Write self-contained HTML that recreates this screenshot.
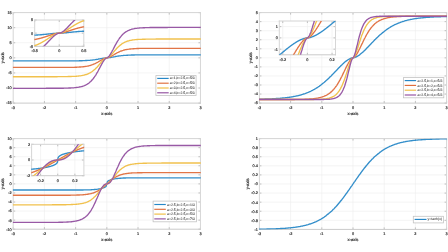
<!DOCTYPE html>
<html><head><meta charset="utf-8"><style>
html,body{margin:0;padding:0;background:#fff;width:448px;height:252px;overflow:hidden}
svg{display:block}
</style></head><body>
<svg width="448" height="252" viewBox="0 0 448 252" font-family='"Liberation Sans", Arial, sans-serif' fill="#3a3a3a"><style>text{text-rendering:geometricPrecision;stroke:#3a3a3a;stroke-width:0.2}.lg{stroke-width:0.06;fill:#404040;stroke:#404040}</style><rect x="13.20" y="12.60" width="187.25" height="90.50" fill="#fff"/>
<path d="M44.41 12.60V103.10M75.62 12.60V103.10M106.83 12.60V103.10M138.03 12.60V103.10M169.24 12.60V103.10M13.20 88.02H200.45M13.20 72.93H200.45M13.20 57.85H200.45M13.20 42.77H200.45M13.20 27.68H200.45" stroke="#ececec" stroke-width="0.6" fill="none"/>
<path d="M13.20 103.10v-2.00M13.20 12.60v2.00M44.41 103.10v-2.00M44.41 12.60v2.00M75.62 103.10v-2.00M75.62 12.60v2.00M106.83 103.10v-2.00M106.83 12.60v2.00M138.03 103.10v-2.00M138.03 12.60v2.00M169.24 103.10v-2.00M169.24 12.60v2.00M200.45 103.10v-2.00M200.45 12.60v2.00M13.20 103.10h2.00M200.45 103.10h-2.00M13.20 88.02h2.00M200.45 88.02h-2.00M13.20 72.93h2.00M200.45 72.93h-2.00M13.20 57.85h2.00M200.45 57.85h-2.00M13.20 42.77h2.00M200.45 42.77h-2.00M13.20 27.68h2.00M200.45 27.68h-2.00M13.20 12.60h2.00M200.45 12.60h-2.00" stroke="#999999" stroke-width="0.6" fill="none"/>
<path d="M13.20 12.10V103.60M200.45 12.10V103.60" stroke="#d6d6d6" stroke-width="1.0"/>
<path d="M12.70 12.60H200.95" stroke="#d4d4d4" stroke-width="1.0"/>
<path d="M12.70 103.10H200.95" stroke="#cacaca" stroke-width="1.0"/>
<clipPath id="c1x"><rect x="12.85" y="12.60" width="187.95" height="90.50"/></clipPath>
<path clip-path="url(#c1x)" d="M13.2 60.9L13.8 60.9L14.4 60.9L15.1 60.9L15.7 60.9L16.3 60.9L16.9 60.9L17.6 60.9L18.2 60.9L18.8 60.9L19.4 60.9L20.1 60.9L20.7 60.9L21.3 60.9L21.9 60.9L22.6 60.9L23.2 60.9L23.8 60.9L24.4 60.9L25.1 60.9L25.7 60.9L26.3 60.9L26.9 60.9L27.6 60.9L28.2 60.9L28.8 60.9L29.4 60.9L30.1 60.9L30.7 60.9L31.3 60.9L31.9 60.9L32.5 60.9L33.2 60.9L33.8 60.9L34.4 60.9L35.0 60.9L35.7 60.9L36.3 60.9L36.9 60.9L37.5 60.9L38.2 60.9L38.8 60.9L39.4 60.9L40.0 60.9L40.7 60.9L41.3 60.9L41.9 60.9L42.5 60.9L43.2 60.9L43.8 60.9L44.4 60.9L45.0 60.9L45.7 60.9L46.3 60.9L46.9 60.9L47.5 60.9L48.2 60.9L48.8 60.9L49.4 60.9L50.0 60.9L50.6 60.9L51.3 60.9L51.9 60.9L52.5 60.9L53.1 60.9L53.8 60.9L54.4 60.9L55.0 60.9L55.6 60.9L56.3 60.9L56.9 60.9L57.5 60.9L58.1 60.9L58.8 60.9L59.4 60.9L60.0 60.9L60.6 60.9L61.3 60.9L61.9 60.9L62.5 60.9L63.1 60.9L63.8 60.9L64.4 60.9L65.0 60.9L65.6 60.9L66.3 60.9L66.9 60.9L67.5 60.8L68.1 60.8L68.8 60.8L69.4 60.8L70.0 60.8L70.6 60.8L71.2 60.8L71.9 60.8L72.5 60.8L73.1 60.8L73.7 60.8L74.4 60.8L75.0 60.8L75.6 60.8L76.2 60.8L76.9 60.8L77.5 60.8L78.1 60.8L78.7 60.8L79.4 60.7L80.0 60.7L80.6 60.7L81.2 60.7L81.9 60.7L82.5 60.7L83.1 60.6L83.7 60.6L84.4 60.6L85.0 60.6L85.6 60.5L86.2 60.5L86.9 60.5L87.5 60.4L88.1 60.4L88.7 60.4L89.3 60.3L90.0 60.3L90.6 60.2L91.2 60.1L91.8 60.1L92.5 60.0L93.1 59.9L93.7 59.9L94.3 59.8L95.0 59.7L95.6 59.6L96.2 59.5L96.8 59.4L97.5 59.3L98.1 59.2L98.7 59.0L99.3 58.9L100.0 58.8L100.6 58.7L101.2 58.6L101.8 58.5L102.5 58.3L103.1 58.2L103.7 58.1L104.3 58.1L105.0 58.0L105.6 57.9L106.2 57.9L106.8 57.8L107.4 57.8L108.1 57.8L108.7 57.7L109.3 57.6L109.9 57.6L110.6 57.5L111.2 57.4L111.8 57.2L112.4 57.1L113.1 57.0L113.7 56.9L114.3 56.8L114.9 56.7L115.6 56.5L116.2 56.4L116.8 56.3L117.4 56.2L118.1 56.1L118.7 56.0L119.3 55.9L119.9 55.8L120.6 55.8L121.2 55.7L121.8 55.6L122.4 55.6L123.1 55.5L123.7 55.4L124.3 55.4L124.9 55.3L125.5 55.3L126.2 55.3L126.8 55.2L127.4 55.2L128.0 55.2L128.7 55.1L129.3 55.1L129.9 55.1L130.5 55.1L131.2 55.0L131.8 55.0L132.4 55.0L133.0 55.0L133.7 55.0L134.3 55.0L134.9 54.9L135.5 54.9L136.2 54.9L136.8 54.9L137.4 54.9L138.0 54.9L138.7 54.9L139.3 54.9L139.9 54.9L140.5 54.9L141.2 54.9L141.8 54.9L142.4 54.9L143.0 54.9L143.7 54.9L144.3 54.9L144.9 54.9L145.5 54.9L146.1 54.9L146.8 54.8L147.4 54.8L148.0 54.8L148.6 54.8L149.3 54.8L149.9 54.8L150.5 54.8L151.1 54.8L151.8 54.8L152.4 54.8L153.0 54.8L153.6 54.8L154.3 54.8L154.9 54.8L155.5 54.8L156.1 54.8L156.8 54.8L157.4 54.8L158.0 54.8L158.6 54.8L159.3 54.8L159.9 54.8L160.5 54.8L161.1 54.8L161.8 54.8L162.4 54.8L163.0 54.8L163.6 54.8L164.2 54.8L164.9 54.8L165.5 54.8L166.1 54.8L166.7 54.8L167.4 54.8L168.0 54.8L168.6 54.8L169.2 54.8L169.9 54.8L170.5 54.8L171.1 54.8L171.7 54.8L172.4 54.8L173.0 54.8L173.6 54.8L174.2 54.8L174.9 54.8L175.5 54.8L176.1 54.8L176.7 54.8L177.4 54.8L178.0 54.8L178.6 54.8L179.2 54.8L179.9 54.8L180.5 54.8L181.1 54.8L181.7 54.8L182.3 54.8L183.0 54.8L183.6 54.8L184.2 54.8L184.8 54.8L185.5 54.8L186.1 54.8L186.7 54.8L187.3 54.8L188.0 54.8L188.6 54.8L189.2 54.8L189.8 54.8L190.5 54.8L191.1 54.8L191.7 54.8L192.3 54.8L193.0 54.8L193.6 54.8L194.2 54.8L194.8 54.8L195.5 54.8L196.1 54.8L196.7 54.8L197.3 54.8L198.0 54.8L198.6 54.8L199.2 54.8L199.8 54.8L200.4 54.8" stroke="#338eca" stroke-width="1.35" stroke-opacity="1.0" fill="none" stroke-linejoin="round" stroke-linecap="square"/>
<path clip-path="url(#c1x)" d="M13.2 67.4L13.8 67.4L14.4 67.4L15.1 67.4L15.7 67.4L16.3 67.4L16.9 67.4L17.6 67.4L18.2 67.4L18.8 67.4L19.4 67.4L20.1 67.4L20.7 67.4L21.3 67.4L21.9 67.4L22.6 67.4L23.2 67.4L23.8 67.4L24.4 67.4L25.1 67.4L25.7 67.4L26.3 67.4L26.9 67.4L27.6 67.4L28.2 67.4L28.8 67.4L29.4 67.4L30.1 67.4L30.7 67.4L31.3 67.4L31.9 67.4L32.5 67.4L33.2 67.4L33.8 67.4L34.4 67.4L35.0 67.4L35.7 67.4L36.3 67.4L36.9 67.4L37.5 67.4L38.2 67.4L38.8 67.4L39.4 67.4L40.0 67.4L40.7 67.4L41.3 67.4L41.9 67.4L42.5 67.4L43.2 67.4L43.8 67.4L44.4 67.4L45.0 67.4L45.7 67.4L46.3 67.4L46.9 67.4L47.5 67.4L48.2 67.4L48.8 67.4L49.4 67.4L50.0 67.4L50.6 67.4L51.3 67.4L51.9 67.4L52.5 67.4L53.1 67.4L53.8 67.4L54.4 67.4L55.0 67.4L55.6 67.4L56.3 67.4L56.9 67.4L57.5 67.4L58.1 67.4L58.8 67.4L59.4 67.4L60.0 67.4L60.6 67.4L61.3 67.4L61.9 67.4L62.5 67.4L63.1 67.4L63.8 67.4L64.4 67.4L65.0 67.4L65.6 67.4L66.3 67.4L66.9 67.4L67.5 67.4L68.1 67.4L68.8 67.4L69.4 67.3L70.0 67.3L70.6 67.3L71.2 67.3L71.9 67.3L72.5 67.3L73.1 67.3L73.7 67.3L74.4 67.3L75.0 67.2L75.6 67.2L76.2 67.2L76.9 67.2L77.5 67.1L78.1 67.1L78.7 67.1L79.4 67.0L80.0 67.0L80.6 67.0L81.2 66.9L81.9 66.9L82.5 66.8L83.1 66.7L83.7 66.7L84.4 66.6L85.0 66.5L85.6 66.4L86.2 66.3L86.9 66.2L87.5 66.1L88.1 66.0L88.7 65.8L89.3 65.7L90.0 65.5L90.6 65.3L91.2 65.1L91.8 64.9L92.5 64.7L93.1 64.5L93.7 64.2L94.3 63.9L95.0 63.6L95.6 63.3L96.2 63.0L96.8 62.7L97.5 62.3L98.1 62.0L98.7 61.6L99.3 61.2L100.0 60.9L100.6 60.5L101.2 60.1L101.8 59.8L102.5 59.4L103.1 59.1L103.7 58.8L104.3 58.5L105.0 58.3L105.6 58.1L106.2 57.9L106.8 57.8L107.4 57.8L108.1 57.6L108.7 57.4L109.3 57.2L109.9 56.9L110.6 56.6L111.2 56.3L111.8 55.9L112.4 55.6L113.1 55.2L113.7 54.8L114.3 54.5L114.9 54.1L115.6 53.7L116.2 53.4L116.8 53.0L117.4 52.7L118.1 52.4L118.7 52.1L119.3 51.8L119.9 51.5L120.6 51.2L121.2 51.0L121.8 50.8L122.4 50.6L123.1 50.4L123.7 50.2L124.3 50.0L124.9 49.9L125.5 49.7L126.2 49.6L126.8 49.5L127.4 49.4L128.0 49.3L128.7 49.2L129.3 49.1L129.9 49.0L130.5 49.0L131.2 48.9L131.8 48.8L132.4 48.8L133.0 48.7L133.7 48.7L134.3 48.7L134.9 48.6L135.5 48.6L136.2 48.6L136.8 48.5L137.4 48.5L138.0 48.5L138.7 48.5L139.3 48.4L139.9 48.4L140.5 48.4L141.2 48.4L141.8 48.4L142.4 48.4L143.0 48.4L143.7 48.4L144.3 48.4L144.9 48.3L145.5 48.3L146.1 48.3L146.8 48.3L147.4 48.3L148.0 48.3L148.6 48.3L149.3 48.3L149.9 48.3L150.5 48.3L151.1 48.3L151.8 48.3L152.4 48.3L153.0 48.3L153.6 48.3L154.3 48.3L154.9 48.3L155.5 48.3L156.1 48.3L156.8 48.3L157.4 48.3L158.0 48.3L158.6 48.3L159.3 48.3L159.9 48.3L160.5 48.3L161.1 48.3L161.8 48.3L162.4 48.3L163.0 48.3L163.6 48.3L164.2 48.3L164.9 48.3L165.5 48.3L166.1 48.3L166.7 48.3L167.4 48.3L168.0 48.3L168.6 48.3L169.2 48.3L169.9 48.3L170.5 48.3L171.1 48.3L171.7 48.3L172.4 48.3L173.0 48.3L173.6 48.3L174.2 48.3L174.9 48.3L175.5 48.3L176.1 48.3L176.7 48.3L177.4 48.3L178.0 48.3L178.6 48.3L179.2 48.3L179.9 48.3L180.5 48.3L181.1 48.3L181.7 48.3L182.3 48.3L183.0 48.3L183.6 48.3L184.2 48.3L184.8 48.3L185.5 48.3L186.1 48.3L186.7 48.3L187.3 48.3L188.0 48.3L188.6 48.3L189.2 48.3L189.8 48.3L190.5 48.3L191.1 48.3L191.7 48.3L192.3 48.3L193.0 48.3L193.6 48.3L194.2 48.3L194.8 48.3L195.5 48.3L196.1 48.3L196.7 48.3L197.3 48.3L198.0 48.3L198.6 48.3L199.2 48.3L199.8 48.3L200.4 48.3" stroke="#e17547" stroke-width="1.35" stroke-opacity="1.0" fill="none" stroke-linejoin="round" stroke-linecap="square"/>
<path clip-path="url(#c1x)" d="M13.2 76.7L13.8 76.7L14.4 76.7L15.1 76.7L15.7 76.7L16.3 76.7L16.9 76.7L17.6 76.7L18.2 76.7L18.8 76.7L19.4 76.7L20.1 76.7L20.7 76.7L21.3 76.7L21.9 76.7L22.6 76.7L23.2 76.7L23.8 76.7L24.4 76.7L25.1 76.7L25.7 76.7L26.3 76.7L26.9 76.7L27.6 76.7L28.2 76.7L28.8 76.7L29.4 76.7L30.1 76.7L30.7 76.7L31.3 76.7L31.9 76.7L32.5 76.7L33.2 76.7L33.8 76.7L34.4 76.7L35.0 76.7L35.7 76.7L36.3 76.7L36.9 76.7L37.5 76.7L38.2 76.7L38.8 76.7L39.4 76.7L40.0 76.7L40.7 76.7L41.3 76.7L41.9 76.7L42.5 76.7L43.2 76.7L43.8 76.7L44.4 76.7L45.0 76.7L45.7 76.7L46.3 76.7L46.9 76.7L47.5 76.7L48.2 76.7L48.8 76.7L49.4 76.7L50.0 76.7L50.6 76.7L51.3 76.7L51.9 76.7L52.5 76.7L53.1 76.7L53.8 76.7L54.4 76.7L55.0 76.7L55.6 76.7L56.3 76.7L56.9 76.7L57.5 76.7L58.1 76.6L58.8 76.6L59.4 76.6L60.0 76.6L60.6 76.6L61.3 76.6L61.9 76.6L62.5 76.6L63.1 76.6L63.8 76.6L64.4 76.6L65.0 76.6L65.6 76.6L66.3 76.6L66.9 76.6L67.5 76.6L68.1 76.5L68.8 76.5L69.4 76.5L70.0 76.5L70.6 76.5L71.2 76.5L71.9 76.4L72.5 76.4L73.1 76.4L73.7 76.4L74.4 76.3L75.0 76.3L75.6 76.3L76.2 76.2L76.9 76.2L77.5 76.1L78.1 76.1L78.7 76.0L79.4 75.9L80.0 75.8L80.6 75.8L81.2 75.7L81.9 75.6L82.5 75.4L83.1 75.3L83.7 75.2L84.4 75.0L85.0 74.9L85.6 74.7L86.2 74.5L86.9 74.3L87.5 74.0L88.1 73.8L88.7 73.5L89.3 73.2L90.0 72.9L90.6 72.5L91.2 72.2L91.8 71.8L92.5 71.3L93.1 70.8L93.7 70.3L94.3 69.8L95.0 69.2L95.6 68.6L96.2 68.0L96.8 67.4L97.5 66.7L98.1 66.0L98.7 65.3L99.3 64.5L100.0 63.8L100.6 63.0L101.2 62.3L101.8 61.6L102.5 60.9L103.1 60.3L103.7 59.7L104.3 59.1L105.0 58.6L105.6 58.3L106.2 58.0L106.8 57.8L107.4 57.7L108.1 57.4L108.7 57.1L109.3 56.6L109.9 56.0L110.6 55.4L111.2 54.8L111.8 54.1L112.4 53.4L113.1 52.7L113.7 51.9L114.3 51.2L114.9 50.4L115.6 49.7L116.2 49.0L116.8 48.3L117.4 47.7L118.1 47.1L118.7 46.5L119.3 45.9L119.9 45.4L120.6 44.9L121.2 44.4L121.8 43.9L122.4 43.5L123.1 43.2L123.7 42.8L124.3 42.5L124.9 42.2L125.5 41.9L126.2 41.7L126.8 41.4L127.4 41.2L128.0 41.0L128.7 40.8L129.3 40.7L129.9 40.5L130.5 40.4L131.2 40.3L131.8 40.1L132.4 40.0L133.0 39.9L133.7 39.9L134.3 39.8L134.9 39.7L135.5 39.6L136.2 39.6L136.8 39.5L137.4 39.5L138.0 39.4L138.7 39.4L139.3 39.4L139.9 39.3L140.5 39.3L141.2 39.3L141.8 39.3L142.4 39.2L143.0 39.2L143.7 39.2L144.3 39.2L144.9 39.2L145.5 39.2L146.1 39.1L146.8 39.1L147.4 39.1L148.0 39.1L148.6 39.1L149.3 39.1L149.9 39.1L150.5 39.1L151.1 39.1L151.8 39.1L152.4 39.1L153.0 39.1L153.6 39.1L154.3 39.1L154.9 39.1L155.5 39.1L156.1 39.0L156.8 39.0L157.4 39.0L158.0 39.0L158.6 39.0L159.3 39.0L159.9 39.0L160.5 39.0L161.1 39.0L161.8 39.0L162.4 39.0L163.0 39.0L163.6 39.0L164.2 39.0L164.9 39.0L165.5 39.0L166.1 39.0L166.7 39.0L167.4 39.0L168.0 39.0L168.6 39.0L169.2 39.0L169.9 39.0L170.5 39.0L171.1 39.0L171.7 39.0L172.4 39.0L173.0 39.0L173.6 39.0L174.2 39.0L174.9 39.0L175.5 39.0L176.1 39.0L176.7 39.0L177.4 39.0L178.0 39.0L178.6 39.0L179.2 39.0L179.9 39.0L180.5 39.0L181.1 39.0L181.7 39.0L182.3 39.0L183.0 39.0L183.6 39.0L184.2 39.0L184.8 39.0L185.5 39.0L186.1 39.0L186.7 39.0L187.3 39.0L188.0 39.0L188.6 39.0L189.2 39.0L189.8 39.0L190.5 39.0L191.1 39.0L191.7 39.0L192.3 39.0L193.0 39.0L193.6 39.0L194.2 39.0L194.8 39.0L195.5 39.0L196.1 39.0L196.7 39.0L197.3 39.0L198.0 39.0L198.6 39.0L199.2 39.0L199.8 39.0L200.4 39.0" stroke="#f1c14d" stroke-width="1.35" stroke-opacity="1.0" fill="none" stroke-linejoin="round" stroke-linecap="square"/>
<path clip-path="url(#c1x)" d="M13.2 88.3L13.8 88.3L14.4 88.3L15.1 88.3L15.7 88.3L16.3 88.3L16.9 88.3L17.6 88.3L18.2 88.3L18.8 88.3L19.4 88.3L20.1 88.3L20.7 88.3L21.3 88.3L21.9 88.3L22.6 88.3L23.2 88.3L23.8 88.3L24.4 88.3L25.1 88.3L25.7 88.3L26.3 88.3L26.9 88.3L27.6 88.3L28.2 88.3L28.8 88.3L29.4 88.3L30.1 88.3L30.7 88.3L31.3 88.3L31.9 88.3L32.5 88.3L33.2 88.3L33.8 88.3L34.4 88.3L35.0 88.3L35.7 88.3L36.3 88.3L36.9 88.3L37.5 88.3L38.2 88.3L38.8 88.3L39.4 88.3L40.0 88.3L40.7 88.3L41.3 88.3L41.9 88.3L42.5 88.3L43.2 88.3L43.8 88.3L44.4 88.3L45.0 88.3L45.7 88.3L46.3 88.2L46.9 88.2L47.5 88.2L48.2 88.2L48.8 88.2L49.4 88.2L50.0 88.2L50.6 88.2L51.3 88.2L51.9 88.2L52.5 88.2L53.1 88.2L53.8 88.2L54.4 88.2L55.0 88.2L55.6 88.2L56.3 88.2L56.9 88.2L57.5 88.2L58.1 88.2L58.8 88.2L59.4 88.2L60.0 88.2L60.6 88.2L61.3 88.2L61.9 88.2L62.5 88.2L63.1 88.2L63.8 88.2L64.4 88.1L65.0 88.1L65.6 88.1L66.3 88.1L66.9 88.1L67.5 88.1L68.1 88.1L68.8 88.0L69.4 88.0L70.0 88.0L70.6 88.0L71.2 87.9L71.9 87.9L72.5 87.8L73.1 87.8L73.7 87.8L74.4 87.7L75.0 87.6L75.6 87.6L76.2 87.5L76.9 87.4L77.5 87.3L78.1 87.3L78.7 87.2L79.4 87.0L80.0 86.9L80.6 86.8L81.2 86.6L81.9 86.5L82.5 86.3L83.1 86.1L83.7 85.9L84.4 85.6L85.0 85.3L85.6 85.1L86.2 84.7L86.9 84.4L87.5 84.0L88.1 83.6L88.7 83.2L89.3 82.7L90.0 82.1L90.6 81.6L91.2 81.0L91.8 80.3L92.5 79.6L93.1 78.8L93.7 78.0L94.3 77.2L95.0 76.2L95.6 75.3L96.2 74.3L96.8 73.2L97.5 72.1L98.1 71.0L98.7 69.8L99.3 68.6L100.0 67.4L100.6 66.2L101.2 65.1L101.8 63.9L102.5 62.8L103.1 61.7L103.7 60.8L104.3 59.9L105.0 59.1L105.6 58.5L106.2 58.1L106.8 57.8L107.4 57.6L108.1 57.2L108.7 56.6L109.3 55.8L109.9 54.9L110.6 54.0L111.2 52.9L111.8 51.8L112.4 50.6L113.1 49.5L113.7 48.3L114.3 47.1L114.9 45.9L115.6 44.7L116.2 43.6L116.8 42.5L117.4 41.4L118.1 40.4L118.7 39.5L119.3 38.5L119.9 37.7L120.6 36.9L121.2 36.1L121.8 35.4L122.4 34.7L123.1 34.1L123.7 33.6L124.3 33.0L124.9 32.5L125.5 32.1L126.2 31.7L126.8 31.3L127.4 31.0L128.0 30.6L128.7 30.4L129.3 30.1L129.9 29.8L130.5 29.6L131.2 29.4L131.8 29.2L132.4 29.1L133.0 28.9L133.7 28.8L134.3 28.7L134.9 28.5L135.5 28.4L136.2 28.4L136.8 28.3L137.4 28.2L138.0 28.1L138.7 28.1L139.3 28.0L139.9 27.9L140.5 27.9L141.2 27.9L141.8 27.8L142.4 27.8L143.0 27.7L143.7 27.7L144.3 27.7L144.9 27.7L145.5 27.6L146.1 27.6L146.8 27.6L147.4 27.6L148.0 27.6L148.6 27.6L149.3 27.6L149.9 27.5L150.5 27.5L151.1 27.5L151.8 27.5L152.4 27.5L153.0 27.5L153.6 27.5L154.3 27.5L154.9 27.5L155.5 27.5L156.1 27.5L156.8 27.5L157.4 27.5L158.0 27.5L158.6 27.5L159.3 27.5L159.9 27.5L160.5 27.5L161.1 27.5L161.8 27.5L162.4 27.5L163.0 27.5L163.6 27.5L164.2 27.5L164.9 27.5L165.5 27.5L166.1 27.5L166.7 27.5L167.4 27.5L168.0 27.4L168.6 27.4L169.2 27.4L169.9 27.4L170.5 27.4L171.1 27.4L171.7 27.4L172.4 27.4L173.0 27.4L173.6 27.4L174.2 27.4L174.9 27.4L175.5 27.4L176.1 27.4L176.7 27.4L177.4 27.4L178.0 27.4L178.6 27.4L179.2 27.4L179.9 27.4L180.5 27.4L181.1 27.4L181.7 27.4L182.3 27.4L183.0 27.4L183.6 27.4L184.2 27.4L184.8 27.4L185.5 27.4L186.1 27.4L186.7 27.4L187.3 27.4L188.0 27.4L188.6 27.4L189.2 27.4L189.8 27.4L190.5 27.4L191.1 27.4L191.7 27.4L192.3 27.4L193.0 27.4L193.6 27.4L194.2 27.4L194.8 27.4L195.5 27.4L196.1 27.4L196.7 27.4L197.3 27.4L198.0 27.4L198.6 27.4L199.2 27.4L199.8 27.4L200.4 27.4" stroke="#9859a5" stroke-width="1.35" stroke-opacity="1.0" fill="none" stroke-linejoin="round" stroke-linecap="square"/>
<text x="13.20" y="108.80" font-size="3.8" text-anchor="middle">-3</text>
<text x="44.41" y="108.80" font-size="3.8" text-anchor="middle">-2</text>
<text x="75.62" y="108.80" font-size="3.8" text-anchor="middle">-1</text>
<text x="106.83" y="108.80" font-size="3.8" text-anchor="middle">0</text>
<text x="138.03" y="108.80" font-size="3.8" text-anchor="middle">1</text>
<text x="169.24" y="108.80" font-size="3.8" text-anchor="middle">2</text>
<text x="200.45" y="108.80" font-size="3.8" text-anchor="middle">3</text>
<text x="11.70" y="104.46" font-size="3.8" text-anchor="end">-15</text>
<text x="11.70" y="89.38" font-size="3.8" text-anchor="end">-10</text>
<text x="11.70" y="74.29" font-size="3.8" text-anchor="end">-5</text>
<text x="11.70" y="59.21" font-size="3.8" text-anchor="end">0</text>
<text x="11.70" y="44.13" font-size="3.8" text-anchor="end">5</text>
<text x="11.70" y="29.04" font-size="3.8" text-anchor="end">10</text>
<text x="11.70" y="13.96" font-size="3.8" text-anchor="end">15</text>
<rect x="155.90" y="75.60" width="40.20" height="19.80" fill="#fff" stroke="#c4c4c4" stroke-width="0.8"/>
<path d="M157.20 78.40H168.70" stroke="#2687c7" stroke-width="1.15" stroke-opacity="1.0"/>
<text class="lg" x="169.80" y="79.00" font-size="3.45">a=1,b=2.5,c=5/3</text>
<path d="M157.20 83.20H168.70" stroke="#df6d3c" stroke-width="1.15" stroke-opacity="1.0"/>
<text class="lg" x="169.80" y="84.00" font-size="3.45">a=2,b=2.5,c=5/3</text>
<path d="M157.20 88.00H168.70" stroke="#f0bd41" stroke-width="1.15" stroke-opacity="1.0"/>
<text class="lg" x="169.80" y="89.00" font-size="3.45">a=3,b=2.5,c=5/3</text>
<path d="M157.20 92.80H168.70" stroke="#914e9f" stroke-width="1.15" stroke-opacity="1.0"/>
<text class="lg" x="169.80" y="94.00" font-size="3.45">a=4,b=2.5,c=5/3</text>
<rect x="34.70" y="20.00" width="49.10" height="26.30" fill="#fff"/>
<path d="M59.25 20.00V46.30M34.70 33.15H83.80" stroke="#ececec" stroke-width="0.6" fill="none"/>
<path d="M34.70 46.30v-2.00M34.70 20.00v2.00M59.25 46.30v-2.00M59.25 20.00v2.00M83.80 46.30v-2.00M83.80 20.00v2.00M34.70 46.30h2.00M83.80 46.30h-2.00M34.70 33.15h2.00M83.80 33.15h-2.00M34.70 20.00h2.00M83.80 20.00h-2.00" stroke="#999999" stroke-width="0.6" fill="none"/>
<path d="M34.70 19.50V46.80M83.80 19.50V46.80" stroke="#d6d6d6" stroke-width="1.0"/>
<path d="M34.20 20.00H84.30" stroke="#d4d4d4" stroke-width="1.0"/>
<path d="M34.20 46.30H84.30" stroke="#cacaca" stroke-width="1.0"/>
<clipPath id="c2x"><rect x="34.35" y="20.00" width="49.80" height="26.30"/></clipPath>
<path clip-path="url(#c2x)" d="M34.7 35.1L34.9 35.1L35.2 35.1L35.4 35.1L35.7 35.1L35.9 35.1L36.2 35.1L36.4 35.0L36.7 35.0L36.9 35.0L37.2 35.0L37.4 35.0L37.6 35.0L37.9 34.9L38.1 34.9L38.4 34.9L38.6 34.9L38.9 34.9L39.1 34.9L39.4 34.8L39.6 34.8L39.9 34.8L40.1 34.8L40.3 34.8L40.6 34.7L40.8 34.7L41.1 34.7L41.3 34.7L41.6 34.7L41.8 34.6L42.1 34.6L42.3 34.6L42.6 34.6L42.8 34.5L43.0 34.5L43.3 34.5L43.5 34.5L43.8 34.5L44.0 34.4L44.3 34.4L44.5 34.4L44.8 34.4L45.0 34.3L45.3 34.3L45.5 34.3L45.7 34.3L46.0 34.2L46.2 34.2L46.5 34.2L46.7 34.2L47.0 34.1L47.2 34.1L47.5 34.1L47.7 34.1L48.0 34.0L48.2 34.0L48.4 34.0L48.7 34.0L48.9 33.9L49.2 33.9L49.4 33.9L49.7 33.9L49.9 33.8L50.2 33.8L50.4 33.8L50.7 33.7L50.9 33.7L51.1 33.7L51.4 33.7L51.6 33.6L51.9 33.6L52.1 33.6L52.4 33.6L52.6 33.6L52.9 33.5L53.1 33.5L53.4 33.5L53.6 33.5L53.8 33.4L54.1 33.4L54.3 33.4L54.6 33.4L54.8 33.4L55.1 33.3L55.3 33.3L55.6 33.3L55.8 33.3L56.1 33.3L56.3 33.3L56.5 33.2L56.8 33.2L57.0 33.2L57.3 33.2L57.5 33.2L57.8 33.2L58.0 33.2L58.3 33.2L58.5 33.2L58.8 33.2L59.0 33.2L59.2 33.1L59.5 33.1L59.7 33.1L60.0 33.1L60.2 33.1L60.5 33.1L60.7 33.1L61.0 33.1L61.2 33.1L61.5 33.1L61.7 33.1L62.0 33.1L62.2 33.0L62.4 33.0L62.7 33.0L62.9 33.0L63.2 33.0L63.4 33.0L63.7 32.9L63.9 32.9L64.2 32.9L64.4 32.9L64.7 32.9L64.9 32.8L65.1 32.8L65.4 32.8L65.6 32.8L65.9 32.7L66.1 32.7L66.4 32.7L66.6 32.7L66.9 32.7L67.1 32.6L67.4 32.6L67.6 32.6L67.8 32.6L68.1 32.5L68.3 32.5L68.6 32.5L68.8 32.4L69.1 32.4L69.3 32.4L69.6 32.4L69.8 32.3L70.1 32.3L70.3 32.3L70.5 32.3L70.8 32.2L71.0 32.2L71.3 32.2L71.5 32.2L71.8 32.1L72.0 32.1L72.3 32.1L72.5 32.1L72.8 32.0L73.0 32.0L73.2 32.0L73.5 32.0L73.7 31.9L74.0 31.9L74.2 31.9L74.5 31.9L74.7 31.8L75.0 31.8L75.2 31.8L75.5 31.8L75.7 31.8L75.9 31.7L76.2 31.7L76.4 31.7L76.7 31.7L76.9 31.6L77.2 31.6L77.4 31.6L77.7 31.6L77.9 31.6L78.2 31.5L78.4 31.5L78.6 31.5L78.9 31.5L79.1 31.5L79.4 31.4L79.6 31.4L79.9 31.4L80.1 31.4L80.4 31.4L80.6 31.4L80.9 31.3L81.1 31.3L81.3 31.3L81.6 31.3L81.8 31.3L82.1 31.3L82.3 31.2L82.6 31.2L82.8 31.2L83.1 31.2L83.3 31.2L83.6 31.2L83.8 31.2" stroke="#338eca" stroke-width="1.35" stroke-opacity="1.0" fill="none" stroke-linejoin="round" stroke-linecap="square"/>
<path clip-path="url(#c2x)" d="M34.7 39.5L34.9 39.5L35.2 39.4L35.4 39.4L35.7 39.3L35.9 39.3L36.2 39.2L36.4 39.2L36.7 39.1L36.9 39.1L37.2 39.0L37.4 39.0L37.6 38.9L37.9 38.9L38.1 38.8L38.4 38.7L38.6 38.7L38.9 38.6L39.1 38.6L39.4 38.5L39.6 38.5L39.9 38.4L40.1 38.3L40.3 38.3L40.6 38.2L40.8 38.1L41.1 38.1L41.3 38.0L41.6 37.9L41.8 37.9L42.1 37.8L42.3 37.7L42.6 37.7L42.8 37.6L43.0 37.5L43.3 37.4L43.5 37.4L43.8 37.3L44.0 37.2L44.3 37.1L44.5 37.1L44.8 37.0L45.0 36.9L45.3 36.8L45.5 36.8L45.7 36.7L46.0 36.6L46.2 36.5L46.5 36.4L46.7 36.4L47.0 36.3L47.2 36.2L47.5 36.1L47.7 36.0L48.0 35.9L48.2 35.9L48.4 35.8L48.7 35.7L48.9 35.6L49.2 35.5L49.4 35.5L49.7 35.4L49.9 35.3L50.2 35.2L50.4 35.1L50.7 35.1L50.9 35.0L51.1 34.9L51.4 34.8L51.6 34.7L51.9 34.7L52.1 34.6L52.4 34.5L52.6 34.4L52.9 34.4L53.1 34.3L53.4 34.2L53.6 34.1L53.8 34.1L54.1 34.0L54.3 34.0L54.6 33.9L54.8 33.8L55.1 33.8L55.3 33.7L55.6 33.7L55.8 33.6L56.1 33.5L56.3 33.5L56.5 33.5L56.8 33.4L57.0 33.4L57.3 33.3L57.5 33.3L57.8 33.3L58.0 33.2L58.3 33.2L58.5 33.2L58.8 33.2L59.0 33.2L59.2 33.1L59.5 33.1L59.7 33.1L60.0 33.1L60.2 33.1L60.5 33.1L60.7 33.0L61.0 33.0L61.2 33.0L61.5 32.9L61.7 32.9L62.0 32.8L62.2 32.8L62.4 32.8L62.7 32.7L62.9 32.6L63.2 32.6L63.4 32.5L63.7 32.5L63.9 32.4L64.2 32.3L64.4 32.3L64.7 32.2L64.9 32.2L65.1 32.1L65.4 32.0L65.6 31.9L65.9 31.9L66.1 31.8L66.4 31.7L66.6 31.6L66.9 31.6L67.1 31.5L67.4 31.4L67.6 31.3L67.8 31.2L68.1 31.2L68.3 31.1L68.6 31.0L68.8 30.9L69.1 30.8L69.3 30.8L69.6 30.7L69.8 30.6L70.1 30.5L70.3 30.4L70.5 30.4L70.8 30.3L71.0 30.2L71.3 30.1L71.5 30.0L71.8 29.9L72.0 29.9L72.3 29.8L72.5 29.7L72.8 29.6L73.0 29.5L73.2 29.5L73.5 29.4L73.7 29.3L74.0 29.2L74.2 29.2L74.5 29.1L74.7 29.0L75.0 28.9L75.2 28.9L75.5 28.8L75.7 28.7L75.9 28.6L76.2 28.6L76.4 28.5L76.7 28.4L76.9 28.4L77.2 28.3L77.4 28.2L77.7 28.2L77.9 28.1L78.2 28.0L78.4 28.0L78.6 27.9L78.9 27.8L79.1 27.8L79.4 27.7L79.6 27.7L79.9 27.6L80.1 27.6L80.4 27.5L80.6 27.4L80.9 27.4L81.1 27.3L81.3 27.3L81.6 27.2L81.8 27.2L82.1 27.1L82.3 27.1L82.6 27.0L82.8 27.0L83.1 26.9L83.3 26.9L83.6 26.8L83.8 26.8" stroke="#e17547" stroke-width="1.35" stroke-opacity="1.0" fill="none" stroke-linejoin="round" stroke-linecap="square"/>
<path clip-path="url(#c2x)" d="M34.7 45.6L34.9 45.5L35.2 45.5L35.4 45.4L35.7 45.3L35.9 45.2L36.2 45.1L36.4 45.0L36.7 44.9L36.9 44.8L37.2 44.7L37.4 44.6L37.6 44.5L37.9 44.4L38.1 44.3L38.4 44.2L38.6 44.0L38.9 43.9L39.1 43.8L39.4 43.7L39.6 43.6L39.9 43.5L40.1 43.3L40.3 43.2L40.6 43.1L40.8 43.0L41.1 42.8L41.3 42.7L41.6 42.6L41.8 42.4L42.1 42.3L42.3 42.2L42.6 42.0L42.8 41.9L43.0 41.7L43.3 41.6L43.5 41.4L43.8 41.3L44.0 41.2L44.3 41.0L44.5 40.9L44.8 40.7L45.0 40.5L45.3 40.4L45.5 40.2L45.7 40.1L46.0 39.9L46.2 39.8L46.5 39.6L46.7 39.5L47.0 39.3L47.2 39.1L47.5 39.0L47.7 38.8L48.0 38.7L48.2 38.5L48.4 38.3L48.7 38.2L48.9 38.0L49.2 37.8L49.4 37.7L49.7 37.5L49.9 37.4L50.2 37.2L50.4 37.0L50.7 36.9L50.9 36.7L51.1 36.6L51.4 36.4L51.6 36.3L51.9 36.1L52.1 36.0L52.4 35.8L52.6 35.7L52.9 35.5L53.1 35.4L53.4 35.3L53.6 35.1L53.8 35.0L54.1 34.9L54.3 34.7L54.6 34.6L54.8 34.5L55.1 34.4L55.3 34.2L55.6 34.1L55.8 34.0L56.1 33.9L56.3 33.8L56.5 33.7L56.8 33.7L57.0 33.6L57.3 33.5L57.5 33.4L57.8 33.4L58.0 33.3L58.3 33.3L58.5 33.2L58.8 33.2L59.0 33.2L59.2 33.1L59.5 33.1L59.7 33.1L60.0 33.1L60.2 33.0L60.5 33.0L60.7 32.9L61.0 32.9L61.2 32.8L61.5 32.7L61.7 32.6L62.0 32.6L62.2 32.5L62.4 32.4L62.7 32.3L62.9 32.2L63.2 32.1L63.4 31.9L63.7 31.8L63.9 31.7L64.2 31.6L64.4 31.4L64.7 31.3L64.9 31.2L65.1 31.0L65.4 30.9L65.6 30.8L65.9 30.6L66.1 30.5L66.4 30.3L66.6 30.2L66.9 30.0L67.1 29.9L67.4 29.7L67.6 29.6L67.8 29.4L68.1 29.3L68.3 29.1L68.6 28.9L68.8 28.8L69.1 28.6L69.3 28.5L69.6 28.3L69.8 28.1L70.1 28.0L70.3 27.8L70.5 27.6L70.8 27.5L71.0 27.3L71.3 27.2L71.5 27.0L71.8 26.8L72.0 26.7L72.3 26.5L72.5 26.4L72.8 26.2L73.0 26.1L73.2 25.9L73.5 25.8L73.7 25.6L74.0 25.4L74.2 25.3L74.5 25.1L74.7 25.0L75.0 24.9L75.2 24.7L75.5 24.6L75.7 24.4L75.9 24.3L76.2 24.1L76.4 24.0L76.7 23.9L76.9 23.7L77.2 23.6L77.4 23.5L77.7 23.3L77.9 23.2L78.2 23.1L78.4 23.0L78.6 22.8L78.9 22.7L79.1 22.6L79.4 22.5L79.6 22.4L79.9 22.3L80.1 22.1L80.4 22.0L80.6 21.9L80.9 21.8L81.1 21.7L81.3 21.6L81.6 21.5L81.8 21.4L82.1 21.3L82.3 21.2L82.6 21.1L82.8 21.0L83.1 20.9L83.3 20.8L83.6 20.8L83.8 20.7" stroke="#f1c14d" stroke-width="1.35" stroke-opacity="1.0" fill="none" stroke-linejoin="round" stroke-linecap="square"/>
<path clip-path="url(#c2x)" d="M34.7 53.3L34.9 53.2L35.2 53.0L35.4 52.9L35.7 52.7L35.9 52.6L36.2 52.4L36.4 52.3L36.7 52.1L36.9 51.9L37.2 51.8L37.4 51.6L37.6 51.4L37.9 51.3L38.1 51.1L38.4 50.9L38.6 50.7L38.9 50.6L39.1 50.4L39.4 50.2L39.6 50.0L39.9 49.8L40.1 49.6L40.3 49.4L40.6 49.2L40.8 49.0L41.1 48.8L41.3 48.6L41.6 48.4L41.8 48.1L42.1 47.9L42.3 47.7L42.6 47.5L42.8 47.2L43.0 47.0L43.3 46.8L43.5 46.5L43.8 46.3L44.0 46.1L44.3 45.8L44.5 45.6L44.8 45.3L45.0 45.1L45.3 44.9L45.5 44.6L45.7 44.4L46.0 44.1L46.2 43.8L46.5 43.6L46.7 43.3L47.0 43.1L47.2 42.8L47.5 42.6L47.7 42.3L48.0 42.0L48.2 41.8L48.4 41.5L48.7 41.3L48.9 41.0L49.2 40.7L49.4 40.5L49.7 40.2L49.9 40.0L50.2 39.7L50.4 39.4L50.7 39.2L50.9 38.9L51.1 38.7L51.4 38.4L51.6 38.2L51.9 37.9L52.1 37.7L52.4 37.5L52.6 37.2L52.9 37.0L53.1 36.8L53.4 36.5L53.6 36.3L53.8 36.1L54.1 35.9L54.3 35.7L54.6 35.5L54.8 35.3L55.1 35.1L55.3 34.9L55.6 34.7L55.8 34.6L56.1 34.4L56.3 34.3L56.5 34.1L56.8 34.0L57.0 33.8L57.3 33.7L57.5 33.6L57.8 33.5L58.0 33.4L58.3 33.3L58.5 33.3L58.8 33.2L59.0 33.2L59.2 33.1L59.5 33.1L59.7 33.1L60.0 33.0L60.2 33.0L60.5 32.9L60.7 32.8L61.0 32.7L61.2 32.6L61.5 32.5L61.7 32.3L62.0 32.2L62.2 32.0L62.4 31.9L62.7 31.7L62.9 31.6L63.2 31.4L63.4 31.2L63.7 31.0L63.9 30.8L64.2 30.6L64.4 30.4L64.7 30.2L64.9 30.0L65.1 29.8L65.4 29.5L65.6 29.3L65.9 29.1L66.1 28.8L66.4 28.6L66.6 28.4L66.9 28.1L67.1 27.9L67.4 27.6L67.6 27.4L67.8 27.1L68.1 26.9L68.3 26.6L68.6 26.3L68.8 26.1L69.1 25.8L69.3 25.6L69.6 25.3L69.8 25.0L70.1 24.8L70.3 24.5L70.5 24.3L70.8 24.0L71.0 23.7L71.3 23.5L71.5 23.2L71.8 23.0L72.0 22.7L72.3 22.5L72.5 22.2L72.8 21.9L73.0 21.7L73.2 21.4L73.5 21.2L73.7 21.0L74.0 20.7L74.2 20.5L74.5 20.2L74.7 20.0L75.0 19.8L75.2 19.5L75.5 19.3L75.7 19.1L75.9 18.8L76.2 18.6L76.4 18.4L76.7 18.2L76.9 17.9L77.2 17.7L77.4 17.5L77.7 17.3L77.9 17.1L78.2 16.9L78.4 16.7L78.6 16.5L78.9 16.3L79.1 16.1L79.4 15.9L79.6 15.7L79.9 15.6L80.1 15.4L80.4 15.2L80.6 15.0L80.9 14.9L81.1 14.7L81.3 14.5L81.6 14.4L81.8 14.2L82.1 14.0L82.3 13.9L82.6 13.7L82.8 13.6L83.1 13.4L83.3 13.3L83.6 13.1L83.8 13.0" stroke="#9859a5" stroke-width="1.35" stroke-opacity="1.0" fill="none" stroke-linejoin="round" stroke-linecap="square"/>
<text x="34.70" y="52.00" font-size="3.8" text-anchor="middle">-0.5</text>
<text x="59.25" y="52.00" font-size="3.8" text-anchor="middle">0</text>
<text x="83.80" y="52.00" font-size="3.8" text-anchor="middle">0.5</text>
<text x="33.20" y="47.66" font-size="3.8" text-anchor="end">-5</text>
<text x="33.20" y="34.51" font-size="3.8" text-anchor="end">0</text>
<text x="33.20" y="21.36" font-size="3.8" text-anchor="end">5</text>
<rect x="259.40" y="12.60" width="187.20" height="90.50" fill="#fff"/>
<path d="M290.60 12.60V103.10M321.80 12.60V103.10M353.00 12.60V103.10M384.20 12.60V103.10M415.40 12.60V103.10M259.40 94.05H446.60M259.40 85.00H446.60M259.40 75.95H446.60M259.40 66.90H446.60M259.40 57.85H446.60M259.40 48.80H446.60M259.40 39.75H446.60M259.40 30.70H446.60M259.40 21.65H446.60" stroke="#ececec" stroke-width="0.6" fill="none"/>
<path d="M259.40 103.10v-2.00M259.40 12.60v2.00M290.60 103.10v-2.00M290.60 12.60v2.00M321.80 103.10v-2.00M321.80 12.60v2.00M353.00 103.10v-2.00M353.00 12.60v2.00M384.20 103.10v-2.00M384.20 12.60v2.00M415.40 103.10v-2.00M415.40 12.60v2.00M446.60 103.10v-2.00M446.60 12.60v2.00M259.40 103.10h2.00M446.60 103.10h-2.00M259.40 94.05h2.00M446.60 94.05h-2.00M259.40 85.00h2.00M446.60 85.00h-2.00M259.40 75.95h2.00M446.60 75.95h-2.00M259.40 66.90h2.00M446.60 66.90h-2.00M259.40 57.85h2.00M446.60 57.85h-2.00M259.40 48.80h2.00M446.60 48.80h-2.00M259.40 39.75h2.00M446.60 39.75h-2.00M259.40 30.70h2.00M446.60 30.70h-2.00M259.40 21.65h2.00M446.60 21.65h-2.00M259.40 12.60h2.00M446.60 12.60h-2.00" stroke="#999999" stroke-width="0.6" fill="none"/>
<path d="M259.40 12.10V103.60M446.60 12.10V103.60" stroke="#d6d6d6" stroke-width="1.0"/>
<path d="M258.90 12.60H447.10" stroke="#d4d4d4" stroke-width="1.0"/>
<path d="M258.90 103.10H447.10" stroke="#cacaca" stroke-width="1.0"/>
<clipPath id="c3x"><rect x="259.05" y="12.60" width="187.90" height="90.50"/></clipPath>
<path clip-path="url(#c3x)" d="M259.4 99.2L260.0 99.2L260.6 99.2L261.3 99.1L261.9 99.1L262.5 99.1L263.1 99.1L263.8 99.1L264.4 99.1L265.0 99.0L265.6 99.0L266.3 99.0L266.9 99.0L267.5 99.0L268.1 98.9L268.8 98.9L269.4 98.9L270.0 98.9L270.6 98.8L271.3 98.8L271.9 98.8L272.5 98.7L273.1 98.7L273.8 98.7L274.4 98.6L275.0 98.6L275.6 98.6L276.2 98.5L276.9 98.5L277.5 98.4L278.1 98.4L278.7 98.4L279.4 98.3L280.0 98.3L280.6 98.2L281.2 98.2L281.9 98.1L282.5 98.0L283.1 98.0L283.7 97.9L284.4 97.9L285.0 97.8L285.6 97.7L286.2 97.6L286.9 97.6L287.5 97.5L288.1 97.4L288.7 97.3L289.4 97.2L290.0 97.2L290.6 97.1L291.2 97.0L291.8 96.9L292.5 96.8L293.1 96.6L293.7 96.5L294.3 96.4L295.0 96.3L295.6 96.2L296.2 96.0L296.8 95.9L297.5 95.8L298.1 95.6L298.7 95.5L299.3 95.3L300.0 95.1L300.6 95.0L301.2 94.8L301.8 94.6L302.5 94.4L303.1 94.2L303.7 94.0L304.3 93.8L305.0 93.6L305.6 93.4L306.2 93.1L306.8 92.9L307.4 92.7L308.1 92.4L308.7 92.1L309.3 91.9L309.9 91.6L310.6 91.3L311.2 91.0L311.8 90.7L312.4 90.4L313.1 90.0L313.7 89.7L314.3 89.4L314.9 89.0L315.6 88.6L316.2 88.2L316.8 87.9L317.4 87.4L318.1 87.0L318.7 86.6L319.3 86.2L319.9 85.7L320.6 85.3L321.2 84.8L321.8 84.3L322.4 83.8L323.0 83.3L323.7 82.8L324.3 82.3L324.9 81.7L325.5 81.2L326.2 80.6L326.8 80.1L327.4 79.5L328.0 78.9L328.7 78.3L329.3 77.7L329.9 77.1L330.5 76.5L331.2 75.9L331.8 75.2L332.4 74.6L333.0 73.9L333.7 73.3L334.3 72.6L334.9 72.0L335.5 71.3L336.2 70.7L336.8 70.0L337.4 69.4L338.0 68.7L338.6 68.1L339.3 67.4L339.9 66.8L340.5 66.2L341.1 65.5L341.8 64.9L342.4 64.3L343.0 63.8L343.6 63.2L344.3 62.6L344.9 62.1L345.5 61.6L346.1 61.1L346.8 60.6L347.4 60.2L348.0 59.8L348.6 59.4L349.3 59.1L349.9 58.7L350.5 58.5L351.1 58.2L351.8 58.0L352.4 57.9L353.0 57.8L353.6 57.8L354.2 57.7L354.9 57.5L355.5 57.2L356.1 57.0L356.7 56.6L357.4 56.3L358.0 55.9L358.6 55.5L359.2 55.1L359.9 54.6L360.5 54.1L361.1 53.6L361.7 53.1L362.4 52.5L363.0 51.9L363.6 51.4L364.2 50.8L364.9 50.2L365.5 49.5L366.1 48.9L366.7 48.3L367.4 47.6L368.0 47.0L368.6 46.3L369.2 45.7L369.8 45.0L370.5 44.4L371.1 43.7L371.7 43.1L372.3 42.4L373.0 41.8L373.6 41.1L374.2 40.5L374.8 39.8L375.5 39.2L376.1 38.6L376.7 38.0L377.3 37.4L378.0 36.8L378.6 36.2L379.2 35.6L379.8 35.1L380.5 34.5L381.1 34.0L381.7 33.4L382.3 32.9L383.0 32.4L383.6 31.9L384.2 31.4L384.8 30.9L385.4 30.4L386.1 30.0L386.7 29.5L387.3 29.1L387.9 28.7L388.6 28.3L389.2 27.8L389.8 27.5L390.4 27.1L391.1 26.7L391.7 26.3L392.3 26.0L392.9 25.7L393.6 25.3L394.2 25.0L394.8 24.7L395.4 24.4L396.1 24.1L396.7 23.8L397.3 23.6L397.9 23.3L398.6 23.0L399.2 22.8L399.8 22.6L400.4 22.3L401.0 22.1L401.7 21.9L402.3 21.7L402.9 21.5L403.5 21.3L404.2 21.1L404.8 20.9L405.4 20.7L406.0 20.6L406.7 20.4L407.3 20.2L407.9 20.1L408.5 19.9L409.2 19.8L409.8 19.7L410.4 19.5L411.0 19.4L411.7 19.3L412.3 19.2L412.9 19.1L413.5 18.9L414.2 18.8L414.8 18.7L415.4 18.6L416.0 18.5L416.6 18.5L417.3 18.4L417.9 18.3L418.5 18.2L419.1 18.1L419.8 18.1L420.4 18.0L421.0 17.9L421.6 17.8L422.3 17.8L422.9 17.7L423.5 17.7L424.1 17.6L424.8 17.5L425.4 17.5L426.0 17.4L426.6 17.4L427.3 17.3L427.9 17.3L428.5 17.3L429.1 17.2L429.8 17.2L430.4 17.1L431.0 17.1L431.6 17.1L432.2 17.0L432.9 17.0L433.5 17.0L434.1 16.9L434.7 16.9L435.4 16.9L436.0 16.8L436.6 16.8L437.2 16.8L437.9 16.8L438.5 16.7L439.1 16.7L439.7 16.7L440.4 16.7L441.0 16.7L441.6 16.6L442.2 16.6L442.9 16.6L443.5 16.6L444.1 16.6L444.7 16.6L445.4 16.5L446.0 16.5L446.6 16.5" stroke="#338eca" stroke-width="1.35" stroke-opacity="1.0" fill="none" stroke-linejoin="round" stroke-linecap="square"/>
<path clip-path="url(#c3x)" d="M259.4 99.5L260.0 99.5L260.6 99.5L261.3 99.5L261.9 99.5L262.5 99.5L263.1 99.5L263.8 99.5L264.4 99.5L265.0 99.5L265.6 99.5L266.3 99.5L266.9 99.5L267.5 99.5L268.1 99.5L268.8 99.5L269.4 99.5L270.0 99.5L270.6 99.5L271.3 99.5L271.9 99.5L272.5 99.5L273.1 99.5L273.8 99.5L274.4 99.5L275.0 99.5L275.6 99.5L276.2 99.5L276.9 99.5L277.5 99.5L278.1 99.5L278.7 99.5L279.4 99.5L280.0 99.5L280.6 99.5L281.2 99.5L281.9 99.5L282.5 99.5L283.1 99.5L283.7 99.5L284.4 99.5L285.0 99.5L285.6 99.5L286.2 99.5L286.9 99.5L287.5 99.5L288.1 99.5L288.7 99.5L289.4 99.5L290.0 99.5L290.6 99.5L291.2 99.5L291.8 99.5L292.5 99.5L293.1 99.5L293.7 99.5L294.3 99.5L295.0 99.4L295.6 99.4L296.2 99.4L296.8 99.4L297.5 99.4L298.1 99.4L298.7 99.4L299.3 99.4L300.0 99.4L300.6 99.4L301.2 99.3L301.8 99.3L302.5 99.3L303.1 99.3L303.7 99.3L304.3 99.3L305.0 99.2L305.6 99.2L306.2 99.2L306.8 99.2L307.4 99.1L308.1 99.1L308.7 99.1L309.3 99.0L309.9 99.0L310.6 98.9L311.2 98.9L311.8 98.8L312.4 98.8L313.1 98.7L313.7 98.6L314.3 98.6L314.9 98.5L315.6 98.4L316.2 98.3L316.8 98.2L317.4 98.1L318.1 98.0L318.7 97.9L319.3 97.7L319.9 97.6L320.6 97.4L321.2 97.2L321.8 97.1L322.4 96.9L323.0 96.6L323.7 96.4L324.3 96.2L324.9 95.9L325.5 95.6L326.2 95.3L326.8 95.0L327.4 94.6L328.0 94.2L328.7 93.8L329.3 93.4L329.9 92.9L330.5 92.4L331.2 91.9L331.8 91.3L332.4 90.7L333.0 90.0L333.7 89.4L334.3 88.6L334.9 87.9L335.5 87.0L336.2 86.2L336.8 85.3L337.4 84.3L338.0 83.3L338.6 82.3L339.3 81.2L339.9 80.1L340.5 78.9L341.1 77.7L341.8 76.5L342.4 75.2L343.0 73.9L343.6 72.6L344.3 71.3L344.9 70.0L345.5 68.7L346.1 67.4L346.8 66.2L347.4 64.9L348.0 63.8L348.6 62.6L349.3 61.6L349.9 60.6L350.5 59.8L351.1 59.1L351.8 58.5L352.4 58.0L353.0 57.8L353.6 57.7L354.2 57.2L354.9 56.6L355.5 55.9L356.1 55.1L356.7 54.1L357.4 53.1L358.0 51.9L358.6 50.8L359.2 49.5L359.9 48.3L360.5 47.0L361.1 45.7L361.7 44.4L362.4 43.1L363.0 41.8L363.6 40.5L364.2 39.2L364.9 38.0L365.5 36.8L366.1 35.6L366.7 34.5L367.4 33.4L368.0 32.4L368.6 31.4L369.2 30.4L369.8 29.5L370.5 28.7L371.1 27.8L371.7 27.1L372.3 26.3L373.0 25.7L373.6 25.0L374.2 24.4L374.8 23.8L375.5 23.3L376.1 22.8L376.7 22.3L377.3 21.9L378.0 21.5L378.6 21.1L379.2 20.7L379.8 20.4L380.5 20.1L381.1 19.8L381.7 19.5L382.3 19.3L383.0 19.1L383.6 18.8L384.2 18.6L384.8 18.5L385.4 18.3L386.1 18.1L386.7 18.0L387.3 17.8L387.9 17.7L388.6 17.6L389.2 17.5L389.8 17.4L390.4 17.3L391.1 17.2L391.7 17.1L392.3 17.1L392.9 17.0L393.6 16.9L394.2 16.9L394.8 16.8L395.4 16.8L396.1 16.7L396.7 16.7L397.3 16.6L397.9 16.6L398.6 16.6L399.2 16.5L399.8 16.5L400.4 16.5L401.0 16.5L401.7 16.4L402.3 16.4L402.9 16.4L403.5 16.4L404.2 16.4L404.8 16.4L405.4 16.3L406.0 16.3L406.7 16.3L407.3 16.3L407.9 16.3L408.5 16.3L409.2 16.3L409.8 16.3L410.4 16.3L411.0 16.3L411.7 16.2L412.3 16.2L412.9 16.2L413.5 16.2L414.2 16.2L414.8 16.2L415.4 16.2L416.0 16.2L416.6 16.2L417.3 16.2L417.9 16.2L418.5 16.2L419.1 16.2L419.8 16.2L420.4 16.2L421.0 16.2L421.6 16.2L422.3 16.2L422.9 16.2L423.5 16.2L424.1 16.2L424.8 16.2L425.4 16.2L426.0 16.2L426.6 16.2L427.3 16.2L427.9 16.2L428.5 16.2L429.1 16.2L429.8 16.2L430.4 16.2L431.0 16.2L431.6 16.2L432.2 16.2L432.9 16.2L433.5 16.2L434.1 16.2L434.7 16.2L435.4 16.2L436.0 16.2L436.6 16.2L437.2 16.2L437.9 16.2L438.5 16.2L439.1 16.2L439.7 16.2L440.4 16.2L441.0 16.2L441.6 16.2L442.2 16.2L442.9 16.2L443.5 16.2L444.1 16.2L444.7 16.2L445.4 16.2L446.0 16.2L446.6 16.2" stroke="#e17547" stroke-width="1.35" stroke-opacity="1.0" fill="none" stroke-linejoin="round" stroke-linecap="square"/>
<path clip-path="url(#c3x)" d="M259.4 99.5L260.0 99.5L260.6 99.5L261.3 99.5L261.9 99.5L262.5 99.5L263.1 99.5L263.8 99.5L264.4 99.5L265.0 99.5L265.6 99.5L266.3 99.5L266.9 99.5L267.5 99.5L268.1 99.5L268.8 99.5L269.4 99.5L270.0 99.5L270.6 99.5L271.3 99.5L271.9 99.5L272.5 99.5L273.1 99.5L273.8 99.5L274.4 99.5L275.0 99.5L275.6 99.5L276.2 99.5L276.9 99.5L277.5 99.5L278.1 99.5L278.7 99.5L279.4 99.5L280.0 99.5L280.6 99.5L281.2 99.5L281.9 99.5L282.5 99.5L283.1 99.5L283.7 99.5L284.4 99.5L285.0 99.5L285.6 99.5L286.2 99.5L286.9 99.5L287.5 99.5L288.1 99.5L288.7 99.5L289.4 99.5L290.0 99.5L290.6 99.5L291.2 99.5L291.8 99.5L292.5 99.5L293.1 99.5L293.7 99.5L294.3 99.5L295.0 99.5L295.6 99.5L296.2 99.5L296.8 99.5L297.5 99.5L298.1 99.5L298.7 99.5L299.3 99.5L300.0 99.5L300.6 99.5L301.2 99.5L301.8 99.5L302.5 99.5L303.1 99.5L303.7 99.5L304.3 99.5L305.0 99.5L305.6 99.5L306.2 99.5L306.8 99.5L307.4 99.5L308.1 99.5L308.7 99.5L309.3 99.5L309.9 99.5L310.6 99.5L311.2 99.5L311.8 99.5L312.4 99.5L313.1 99.5L313.7 99.5L314.3 99.4L314.9 99.4L315.6 99.4L316.2 99.4L316.8 99.4L317.4 99.4L318.1 99.4L318.7 99.3L319.3 99.3L319.9 99.3L320.6 99.3L321.2 99.2L321.8 99.2L322.4 99.1L323.0 99.1L323.7 99.0L324.3 99.0L324.9 98.9L325.5 98.8L326.2 98.7L326.8 98.6L327.4 98.5L328.0 98.4L328.7 98.3L329.3 98.1L329.9 97.9L330.5 97.7L331.2 97.5L331.8 97.2L332.4 97.0L333.0 96.6L333.7 96.3L334.3 95.9L334.9 95.5L335.5 95.0L336.2 94.4L336.8 93.8L337.4 93.1L338.0 92.4L338.6 91.6L339.3 90.7L339.9 89.7L340.5 88.6L341.1 87.4L341.8 86.2L342.4 84.8L343.0 83.3L343.6 81.7L344.3 80.1L344.9 78.3L345.5 76.5L346.1 74.6L346.8 72.6L347.4 70.7L348.0 68.7L348.6 66.8L349.3 64.9L349.9 63.2L350.5 61.6L351.1 60.2L351.8 59.1L352.4 58.2L353.0 57.8L353.6 57.5L354.2 56.6L354.9 55.5L355.5 54.1L356.1 52.5L356.7 50.8L357.4 48.9L358.0 47.0L358.6 45.0L359.2 43.1L359.9 41.1L360.5 39.2L361.1 37.4L361.7 35.6L362.4 34.0L363.0 32.4L363.6 30.9L364.2 29.5L364.9 28.3L365.5 27.1L366.1 26.0L366.7 25.0L367.4 24.1L368.0 23.3L368.6 22.6L369.2 21.9L369.8 21.3L370.5 20.7L371.1 20.2L371.7 19.8L372.3 19.4L373.0 19.1L373.6 18.7L374.2 18.5L374.8 18.2L375.5 18.0L376.1 17.8L376.7 17.6L377.3 17.4L378.0 17.3L378.6 17.2L379.2 17.1L379.8 17.0L380.5 16.9L381.1 16.8L381.7 16.7L382.3 16.7L383.0 16.6L383.6 16.6L384.2 16.5L384.8 16.5L385.4 16.4L386.1 16.4L386.7 16.4L387.3 16.4L387.9 16.3L388.6 16.3L389.2 16.3L389.8 16.3L390.4 16.3L391.1 16.3L391.7 16.3L392.3 16.2L392.9 16.2L393.6 16.2L394.2 16.2L394.8 16.2L395.4 16.2L396.1 16.2L396.7 16.2L397.3 16.2L397.9 16.2L398.6 16.2L399.2 16.2L399.8 16.2L400.4 16.2L401.0 16.2L401.7 16.2L402.3 16.2L402.9 16.2L403.5 16.2L404.2 16.2L404.8 16.2L405.4 16.2L406.0 16.2L406.7 16.2L407.3 16.2L407.9 16.2L408.5 16.2L409.2 16.2L409.8 16.2L410.4 16.2L411.0 16.2L411.7 16.2L412.3 16.2L412.9 16.2L413.5 16.2L414.2 16.2L414.8 16.2L415.4 16.2L416.0 16.2L416.6 16.2L417.3 16.2L417.9 16.2L418.5 16.2L419.1 16.2L419.8 16.2L420.4 16.2L421.0 16.2L421.6 16.2L422.3 16.2L422.9 16.2L423.5 16.2L424.1 16.2L424.8 16.2L425.4 16.2L426.0 16.2L426.6 16.2L427.3 16.2L427.9 16.2L428.5 16.2L429.1 16.2L429.8 16.2L430.4 16.2L431.0 16.2L431.6 16.2L432.2 16.2L432.9 16.2L433.5 16.2L434.1 16.2L434.7 16.2L435.4 16.2L436.0 16.2L436.6 16.2L437.2 16.2L437.9 16.2L438.5 16.2L439.1 16.2L439.7 16.2L440.4 16.2L441.0 16.2L441.6 16.2L442.2 16.2L442.9 16.2L443.5 16.2L444.1 16.2L444.7 16.2L445.4 16.2L446.0 16.2L446.6 16.2" stroke="#f1c14d" stroke-width="1.35" stroke-opacity="1.0" fill="none" stroke-linejoin="round" stroke-linecap="square"/>
<path clip-path="url(#c3x)" d="M259.4 99.5L260.0 99.5L260.6 99.5L261.3 99.5L261.9 99.5L262.5 99.5L263.1 99.5L263.8 99.5L264.4 99.5L265.0 99.5L265.6 99.5L266.3 99.5L266.9 99.5L267.5 99.5L268.1 99.5L268.8 99.5L269.4 99.5L270.0 99.5L270.6 99.5L271.3 99.5L271.9 99.5L272.5 99.5L273.1 99.5L273.8 99.5L274.4 99.5L275.0 99.5L275.6 99.5L276.2 99.5L276.9 99.5L277.5 99.5L278.1 99.5L278.7 99.5L279.4 99.5L280.0 99.5L280.6 99.5L281.2 99.5L281.9 99.5L282.5 99.5L283.1 99.5L283.7 99.5L284.4 99.5L285.0 99.5L285.6 99.5L286.2 99.5L286.9 99.5L287.5 99.5L288.1 99.5L288.7 99.5L289.4 99.5L290.0 99.5L290.6 99.5L291.2 99.5L291.8 99.5L292.5 99.5L293.1 99.5L293.7 99.5L294.3 99.5L295.0 99.5L295.6 99.5L296.2 99.5L296.8 99.5L297.5 99.5L298.1 99.5L298.7 99.5L299.3 99.5L300.0 99.5L300.6 99.5L301.2 99.5L301.8 99.5L302.5 99.5L303.1 99.5L303.7 99.5L304.3 99.5L305.0 99.5L305.6 99.5L306.2 99.5L306.8 99.5L307.4 99.5L308.1 99.5L308.7 99.5L309.3 99.5L309.9 99.5L310.6 99.5L311.2 99.5L311.8 99.5L312.4 99.5L313.1 99.5L313.7 99.5L314.3 99.5L314.9 99.5L315.6 99.5L316.2 99.5L316.8 99.5L317.4 99.5L318.1 99.5L318.7 99.5L319.3 99.5L319.9 99.5L320.6 99.5L321.2 99.5L321.8 99.5L322.4 99.5L323.0 99.5L323.7 99.5L324.3 99.4L324.9 99.4L325.5 99.4L326.2 99.4L326.8 99.4L327.4 99.3L328.0 99.3L328.7 99.3L329.3 99.2L329.9 99.2L330.5 99.1L331.2 99.0L331.8 98.9L332.4 98.8L333.0 98.7L333.7 98.6L334.3 98.4L334.9 98.2L335.5 98.0L336.2 97.7L336.8 97.4L337.4 97.1L338.0 96.6L338.6 96.2L339.3 95.6L339.9 95.0L340.5 94.2L341.1 93.4L341.8 92.4L342.4 91.3L343.0 90.0L343.6 88.6L344.3 87.0L344.9 85.3L345.5 83.3L346.1 81.2L346.8 78.9L347.4 76.5L348.0 73.9L348.6 71.3L349.3 68.7L349.9 66.2L350.5 63.8L351.1 61.6L351.8 59.8L352.4 58.5L353.0 57.8L353.6 57.2L354.2 55.9L354.9 54.1L355.5 51.9L356.1 49.5L356.7 47.0L357.4 44.4L358.0 41.8L358.6 39.2L359.2 36.8L359.9 34.5L360.5 32.4L361.1 30.4L361.7 28.7L362.4 27.1L363.0 25.7L363.6 24.4L364.2 23.3L364.9 22.3L365.5 21.5L366.1 20.7L366.7 20.1L367.4 19.5L368.0 19.1L368.6 18.6L369.2 18.3L369.8 18.0L370.5 17.7L371.1 17.5L371.7 17.3L372.3 17.1L373.0 17.0L373.6 16.9L374.2 16.8L374.8 16.7L375.5 16.6L376.1 16.5L376.7 16.5L377.3 16.4L378.0 16.4L378.6 16.4L379.2 16.3L379.8 16.3L380.5 16.3L381.1 16.3L381.7 16.3L382.3 16.2L383.0 16.2L383.6 16.2L384.2 16.2L384.8 16.2L385.4 16.2L386.1 16.2L386.7 16.2L387.3 16.2L387.9 16.2L388.6 16.2L389.2 16.2L389.8 16.2L390.4 16.2L391.1 16.2L391.7 16.2L392.3 16.2L392.9 16.2L393.6 16.2L394.2 16.2L394.8 16.2L395.4 16.2L396.1 16.2L396.7 16.2L397.3 16.2L397.9 16.2L398.6 16.2L399.2 16.2L399.8 16.2L400.4 16.2L401.0 16.2L401.7 16.2L402.3 16.2L402.9 16.2L403.5 16.2L404.2 16.2L404.8 16.2L405.4 16.2L406.0 16.2L406.7 16.2L407.3 16.2L407.9 16.2L408.5 16.2L409.2 16.2L409.8 16.2L410.4 16.2L411.0 16.2L411.7 16.2L412.3 16.2L412.9 16.2L413.5 16.2L414.2 16.2L414.8 16.2L415.4 16.2L416.0 16.2L416.6 16.2L417.3 16.2L417.9 16.2L418.5 16.2L419.1 16.2L419.8 16.2L420.4 16.2L421.0 16.2L421.6 16.2L422.3 16.2L422.9 16.2L423.5 16.2L424.1 16.2L424.8 16.2L425.4 16.2L426.0 16.2L426.6 16.2L427.3 16.2L427.9 16.2L428.5 16.2L429.1 16.2L429.8 16.2L430.4 16.2L431.0 16.2L431.6 16.2L432.2 16.2L432.9 16.2L433.5 16.2L434.1 16.2L434.7 16.2L435.4 16.2L436.0 16.2L436.6 16.2L437.2 16.2L437.9 16.2L438.5 16.2L439.1 16.2L439.7 16.2L440.4 16.2L441.0 16.2L441.6 16.2L442.2 16.2L442.9 16.2L443.5 16.2L444.1 16.2L444.7 16.2L445.4 16.2L446.0 16.2L446.6 16.2" stroke="#9859a5" stroke-width="1.35" stroke-opacity="1.0" fill="none" stroke-linejoin="round" stroke-linecap="square"/>
<text x="259.40" y="108.80" font-size="3.8" text-anchor="middle">-3</text>
<text x="290.60" y="108.80" font-size="3.8" text-anchor="middle">-2</text>
<text x="321.80" y="108.80" font-size="3.8" text-anchor="middle">-1</text>
<text x="353.00" y="108.80" font-size="3.8" text-anchor="middle">0</text>
<text x="384.20" y="108.80" font-size="3.8" text-anchor="middle">1</text>
<text x="415.40" y="108.80" font-size="3.8" text-anchor="middle">2</text>
<text x="446.60" y="108.80" font-size="3.8" text-anchor="middle">3</text>
<text x="257.90" y="104.46" font-size="3.8" text-anchor="end">-5</text>
<text x="257.90" y="95.41" font-size="3.8" text-anchor="end">-4</text>
<text x="257.90" y="86.36" font-size="3.8" text-anchor="end">-3</text>
<text x="257.90" y="77.31" font-size="3.8" text-anchor="end">-2</text>
<text x="257.90" y="68.26" font-size="3.8" text-anchor="end">-1</text>
<text x="257.90" y="59.21" font-size="3.8" text-anchor="end">0</text>
<text x="257.90" y="50.16" font-size="3.8" text-anchor="end">1</text>
<text x="257.90" y="41.11" font-size="3.8" text-anchor="end">2</text>
<text x="257.90" y="32.06" font-size="3.8" text-anchor="end">3</text>
<text x="257.90" y="23.01" font-size="3.8" text-anchor="end">4</text>
<text x="257.90" y="13.96" font-size="3.8" text-anchor="end">5</text>
<rect x="403.40" y="77.60" width="40.40" height="20.20" fill="#fff" stroke="#c4c4c4" stroke-width="0.8"/>
<path d="M404.70 80.60H416.10" stroke="#2687c7" stroke-width="1.15" stroke-opacity="1.0"/>
<text class="lg" x="417.40" y="82.00" font-size="3.45">a=2.5,b=1,c=5/3</text>
<path d="M404.70 85.40H416.10" stroke="#df6d3c" stroke-width="1.15" stroke-opacity="1.0"/>
<text class="lg" x="417.40" y="87.00" font-size="3.45">a=2.5,b=2,c=5/3</text>
<path d="M404.70 90.20H416.10" stroke="#f0bd41" stroke-width="1.15" stroke-opacity="1.0"/>
<text class="lg" x="417.40" y="91.40" font-size="3.45">a=2.5,b=3,c=5/3</text>
<path d="M404.70 95.00H416.10" stroke="#914e9f" stroke-width="1.15" stroke-opacity="1.0"/>
<text class="lg" x="417.40" y="96.00" font-size="3.45">a=2.5,b=4,c=5/3</text>
<rect x="279.30" y="21.00" width="56.20" height="33.80" fill="#fff"/>
<path d="M282.75 21.00V54.80M307.40 21.00V54.80M332.05 21.00V54.80M279.30 49.17H335.50M279.30 37.90H335.50M279.30 26.63H335.50" stroke="#ececec" stroke-width="0.6" fill="none"/>
<path d="M282.75 54.80v-2.00M282.75 21.00v2.00M307.40 54.80v-2.00M307.40 21.00v2.00M332.05 54.80v-2.00M332.05 21.00v2.00M279.30 49.17h2.00M335.50 49.17h-2.00M279.30 37.90h2.00M335.50 37.90h-2.00M279.30 26.63h2.00M335.50 26.63h-2.00" stroke="#999999" stroke-width="0.6" fill="none"/>
<path d="M279.30 20.50V55.30M335.50 20.50V55.30" stroke="#d6d6d6" stroke-width="1.0"/>
<path d="M278.80 21.00H336.00" stroke="#d4d4d4" stroke-width="1.0"/>
<path d="M278.80 54.80H336.00" stroke="#cacaca" stroke-width="1.0"/>
<clipPath id="c4x"><rect x="278.95" y="21.00" width="56.90" height="33.80"/></clipPath>
<path clip-path="url(#c4x)" d="M279.3 55.1L279.6 54.9L279.9 54.6L280.1 54.4L280.4 54.2L280.7 53.9L281.0 53.7L281.3 53.5L281.5 53.2L281.8 53.0L282.1 52.8L282.4 52.5L282.7 52.3L283.0 52.1L283.2 51.8L283.5 51.6L283.8 51.4L284.1 51.1L284.4 50.9L284.6 50.7L284.9 50.5L285.2 50.2L285.5 50.0L285.8 49.8L286.0 49.5L286.3 49.3L286.6 49.1L286.9 48.9L287.2 48.6L287.4 48.4L287.7 48.2L288.0 48.0L288.3 47.8L288.6 47.5L288.9 47.3L289.1 47.1L289.4 46.9L289.7 46.7L290.0 46.5L290.3 46.3L290.5 46.0L290.8 45.8L291.1 45.6L291.4 45.4L291.7 45.2L291.9 45.0L292.2 44.8L292.5 44.6L292.8 44.4L293.1 44.2L293.4 44.0L293.6 43.8L293.9 43.6L294.2 43.5L294.5 43.3L294.8 43.1L295.0 42.9L295.3 42.7L295.6 42.5L295.9 42.4L296.2 42.2L296.4 42.0L296.7 41.8L297.0 41.7L297.3 41.5L297.6 41.4L297.8 41.2L298.1 41.0L298.4 40.9L298.7 40.7L299.0 40.6L299.3 40.4L299.5 40.3L299.8 40.2L300.1 40.0L300.4 39.9L300.7 39.8L300.9 39.6L301.2 39.5L301.5 39.4L301.8 39.3L302.1 39.2L302.3 39.1L302.6 39.0L302.9 38.9L303.2 38.8L303.5 38.7L303.7 38.6L304.0 38.5L304.3 38.4L304.6 38.3L304.9 38.3L305.2 38.2L305.4 38.1L305.7 38.1L306.0 38.0L306.3 38.0L306.6 38.0L306.8 37.9L307.1 37.9L307.4 37.9L307.7 37.9L308.0 37.9L308.2 37.8L308.5 37.8L308.8 37.8L309.1 37.7L309.4 37.7L309.6 37.6L309.9 37.5L310.2 37.5L310.5 37.4L310.8 37.3L311.1 37.2L311.3 37.1L311.6 37.0L311.9 36.9L312.2 36.8L312.5 36.7L312.7 36.6L313.0 36.5L313.3 36.4L313.6 36.3L313.9 36.2L314.1 36.0L314.4 35.9L314.7 35.8L315.0 35.6L315.3 35.5L315.5 35.4L315.8 35.2L316.1 35.1L316.4 34.9L316.7 34.8L317.0 34.6L317.2 34.4L317.5 34.3L317.8 34.1L318.1 34.0L318.4 33.8L318.6 33.6L318.9 33.4L319.2 33.3L319.5 33.1L319.8 32.9L320.0 32.7L320.3 32.5L320.6 32.3L320.9 32.2L321.2 32.0L321.4 31.8L321.7 31.6L322.0 31.4L322.3 31.2L322.6 31.0L322.9 30.8L323.1 30.6L323.4 30.4L323.7 30.2L324.0 30.0L324.3 29.8L324.5 29.5L324.8 29.3L325.1 29.1L325.4 28.9L325.7 28.7L325.9 28.5L326.2 28.3L326.5 28.0L326.8 27.8L327.1 27.6L327.4 27.4L327.6 27.2L327.9 26.9L328.2 26.7L328.5 26.5L328.8 26.3L329.0 26.0L329.3 25.8L329.6 25.6L329.9 25.3L330.2 25.1L330.4 24.9L330.7 24.7L331.0 24.4L331.3 24.2L331.6 24.0L331.8 23.7L332.1 23.5L332.4 23.3L332.7 23.0L333.0 22.8L333.3 22.6L333.5 22.3L333.8 22.1L334.1 21.9L334.4 21.6L334.7 21.4L334.9 21.2L335.2 20.9L335.5 20.7" stroke="#338eca" stroke-width="1.35" stroke-opacity="1.0" fill="none" stroke-linejoin="round" stroke-linecap="square"/>
<path clip-path="url(#c4x)" d="M279.3 74.8L279.6 74.5L279.9 74.2L280.1 73.9L280.4 73.6L280.7 73.2L281.0 72.9L281.3 72.6L281.5 72.3L281.8 72.0L282.1 71.6L282.4 71.3L282.7 71.0L283.0 70.6L283.2 70.3L283.5 69.9L283.8 69.5L284.1 69.2L284.4 68.8L284.6 68.4L284.9 68.1L285.2 67.7L285.5 67.3L285.8 66.9L286.0 66.5L286.3 66.1L286.6 65.7L286.9 65.3L287.2 64.9L287.4 64.5L287.7 64.0L288.0 63.6L288.3 63.2L288.6 62.8L288.9 62.3L289.1 61.9L289.4 61.5L289.7 61.0L290.0 60.6L290.3 60.1L290.5 59.7L290.8 59.2L291.1 58.8L291.4 58.3L291.7 57.9L291.9 57.4L292.2 56.9L292.5 56.5L292.8 56.0L293.1 55.6L293.4 55.1L293.6 54.6L293.9 54.2L294.2 53.7L294.5 53.2L294.8 52.8L295.0 52.3L295.3 51.8L295.6 51.4L295.9 50.9L296.2 50.5L296.4 50.0L296.7 49.5L297.0 49.1L297.3 48.6L297.6 48.2L297.8 47.8L298.1 47.3L298.4 46.9L298.7 46.5L299.0 46.0L299.3 45.6L299.5 45.2L299.8 44.8L300.1 44.4L300.4 44.0L300.7 43.6L300.9 43.3L301.2 42.9L301.5 42.5L301.8 42.2L302.1 41.8L302.3 41.5L302.6 41.2L302.9 40.9L303.2 40.6L303.5 40.3L303.7 40.0L304.0 39.8L304.3 39.5L304.6 39.3L304.9 39.1L305.2 38.9L305.4 38.7L305.7 38.5L306.0 38.3L306.3 38.2L306.6 38.1L306.8 38.0L307.1 37.9L307.4 37.9L307.7 37.9L308.0 37.8L308.2 37.7L308.5 37.6L308.8 37.5L309.1 37.3L309.4 37.1L309.6 36.9L309.9 36.7L310.2 36.5L310.5 36.3L310.8 36.0L311.1 35.8L311.3 35.5L311.6 35.2L311.9 34.9L312.2 34.6L312.5 34.3L312.7 34.0L313.0 33.6L313.3 33.3L313.6 32.9L313.9 32.5L314.1 32.2L314.4 31.8L314.7 31.4L315.0 31.0L315.3 30.6L315.5 30.2L315.8 29.8L316.1 29.3L316.4 28.9L316.7 28.5L317.0 28.0L317.2 27.6L317.5 27.2L317.8 26.7L318.1 26.3L318.4 25.8L318.6 25.3L318.9 24.9L319.2 24.4L319.5 24.0L319.8 23.5L320.0 23.0L320.3 22.6L320.6 22.1L320.9 21.6L321.2 21.2L321.4 20.7L321.7 20.2L322.0 19.8L322.3 19.3L322.6 18.9L322.9 18.4L323.1 17.9L323.4 17.5L323.7 17.0L324.0 16.6L324.3 16.1L324.5 15.7L324.8 15.2L325.1 14.8L325.4 14.3L325.7 13.9L325.9 13.5L326.2 13.0L326.5 12.6L326.8 12.2L327.1 11.8L327.4 11.3L327.6 10.9L327.9 10.5L328.2 10.1L328.5 9.7L328.8 9.3L329.0 8.9L329.3 8.5L329.6 8.1L329.9 7.7L330.2 7.4L330.4 7.0L330.7 6.6L331.0 6.3L331.3 5.9L331.6 5.5L331.8 5.2L332.1 4.8L332.4 4.5L332.7 4.2L333.0 3.8L333.3 3.5L333.5 3.2L333.8 2.9L334.1 2.6L334.4 2.2L334.7 1.9L334.9 1.6L335.2 1.3L335.5 1.0" stroke="#e17547" stroke-width="1.35" stroke-opacity="1.0" fill="none" stroke-linejoin="round" stroke-linecap="square"/>
<path clip-path="url(#c4x)" d="M279.3 84.4L279.6 84.2L279.9 84.1L280.1 83.9L280.4 83.7L280.7 83.5L281.0 83.3L281.3 83.1L281.5 82.9L281.8 82.6L282.1 82.4L282.4 82.2L282.7 81.9L283.0 81.7L283.2 81.4L283.5 81.1L283.8 80.9L284.1 80.6L284.4 80.3L284.6 80.0L284.9 79.7L285.2 79.4L285.5 79.1L285.8 78.7L286.0 78.4L286.3 78.0L286.6 77.7L286.9 77.3L287.2 76.9L287.4 76.5L287.7 76.1L288.0 75.7L288.3 75.3L288.6 74.9L288.9 74.5L289.1 74.0L289.4 73.6L289.7 73.1L290.0 72.6L290.3 72.1L290.5 71.6L290.8 71.1L291.1 70.6L291.4 70.1L291.7 69.5L291.9 69.0L292.2 68.4L292.5 67.9L292.8 67.3L293.1 66.7L293.4 66.1L293.6 65.5L293.9 64.9L294.2 64.3L294.5 63.6L294.8 63.0L295.0 62.3L295.3 61.7L295.6 61.0L295.9 60.4L296.2 59.7L296.4 59.0L296.7 58.3L297.0 57.6L297.3 56.9L297.6 56.2L297.8 55.6L298.1 54.9L298.4 54.2L298.7 53.5L299.0 52.8L299.3 52.1L299.5 51.4L299.8 50.7L300.1 50.0L300.4 49.3L300.7 48.6L300.9 48.0L301.2 47.3L301.5 46.7L301.8 46.0L302.1 45.4L302.3 44.8L302.6 44.2L302.9 43.6L303.2 43.1L303.5 42.5L303.7 42.0L304.0 41.5L304.3 41.0L304.6 40.6L304.9 40.2L305.2 39.8L305.4 39.4L305.7 39.1L306.0 38.8L306.3 38.5L306.6 38.3L306.8 38.1L307.1 38.0L307.4 37.9L307.7 37.8L308.0 37.7L308.2 37.5L308.5 37.3L308.8 37.0L309.1 36.7L309.4 36.4L309.6 36.0L309.9 35.6L310.2 35.2L310.5 34.8L310.8 34.3L311.1 33.8L311.3 33.3L311.6 32.7L311.9 32.2L312.2 31.6L312.5 31.0L312.7 30.4L313.0 29.8L313.3 29.1L313.6 28.5L313.9 27.8L314.1 27.2L314.4 26.5L314.7 25.8L315.0 25.1L315.3 24.4L315.5 23.7L315.8 23.0L316.1 22.3L316.4 21.6L316.7 20.9L317.0 20.2L317.2 19.6L317.5 18.9L317.8 18.2L318.1 17.5L318.4 16.8L318.6 16.1L318.9 15.4L319.2 14.8L319.5 14.1L319.8 13.5L320.0 12.8L320.3 12.2L320.6 11.5L320.9 10.9L321.2 10.3L321.4 9.7L321.7 9.1L322.0 8.5L322.3 7.9L322.6 7.4L322.9 6.8L323.1 6.3L323.4 5.7L323.7 5.2L324.0 4.7L324.3 4.2L324.5 3.7L324.8 3.2L325.1 2.7L325.4 2.2L325.7 1.8L325.9 1.3L326.2 0.9L326.5 0.5L326.8 0.1L327.1 -0.3L327.4 -0.7L327.6 -1.1L327.9 -1.5L328.2 -1.9L328.5 -2.2L328.8 -2.6L329.0 -2.9L329.3 -3.3L329.6 -3.6L329.9 -3.9L330.2 -4.2L330.4 -4.5L330.7 -4.8L331.0 -5.1L331.3 -5.3L331.6 -5.6L331.8 -5.9L332.1 -6.1L332.4 -6.4L332.7 -6.6L333.0 -6.8L333.3 -7.1L333.5 -7.3L333.8 -7.5L334.1 -7.7L334.4 -7.9L334.7 -8.1L334.9 -8.3L335.2 -8.4L335.5 -8.6" stroke="#f1c14d" stroke-width="1.35" stroke-opacity="1.0" fill="none" stroke-linejoin="round" stroke-linecap="square"/>
<path clip-path="url(#c4x)" d="M279.3 88.0L279.6 87.9L279.9 87.8L280.1 87.7L280.4 87.7L280.7 87.6L281.0 87.5L281.3 87.4L281.5 87.2L281.8 87.1L282.1 87.0L282.4 86.9L282.7 86.7L283.0 86.6L283.2 86.5L283.5 86.3L283.8 86.2L284.1 86.0L284.4 85.8L284.6 85.7L284.9 85.5L285.2 85.3L285.5 85.1L285.8 84.9L286.0 84.6L286.3 84.4L286.6 84.2L286.9 83.9L287.2 83.7L287.4 83.4L287.7 83.1L288.0 82.9L288.3 82.6L288.6 82.2L288.9 81.9L289.1 81.6L289.4 81.2L289.7 80.9L290.0 80.5L290.3 80.1L290.5 79.7L290.8 79.3L291.1 78.8L291.4 78.4L291.7 77.9L291.9 77.4L292.2 76.9L292.5 76.4L292.8 75.9L293.1 75.3L293.4 74.8L293.6 74.2L293.9 73.6L294.2 72.9L294.5 72.3L294.8 71.6L295.0 71.0L295.3 70.3L295.6 69.5L295.9 68.8L296.2 68.1L296.4 67.3L296.7 66.5L297.0 65.7L297.3 64.9L297.6 64.0L297.8 63.2L298.1 62.3L298.4 61.5L298.7 60.6L299.0 59.7L299.3 58.8L299.5 57.9L299.8 56.9L300.1 56.0L300.4 55.1L300.7 54.2L300.9 53.2L301.2 52.3L301.5 51.4L301.8 50.5L302.1 49.5L302.3 48.6L302.6 47.8L302.9 46.9L303.2 46.0L303.5 45.2L303.7 44.4L304.0 43.6L304.3 42.9L304.6 42.2L304.9 41.5L305.2 40.9L305.4 40.3L305.7 39.8L306.0 39.3L306.3 38.9L306.6 38.5L306.8 38.2L307.1 38.0L307.4 37.9L307.7 37.8L308.0 37.6L308.2 37.3L308.5 36.9L308.8 36.5L309.1 36.0L309.4 35.5L309.6 34.9L309.9 34.3L310.2 33.6L310.5 32.9L310.8 32.2L311.1 31.4L311.3 30.6L311.6 29.8L311.9 28.9L312.2 28.0L312.5 27.2L312.7 26.3L313.0 25.3L313.3 24.4L313.6 23.5L313.9 22.6L314.1 21.6L314.4 20.7L314.7 19.8L315.0 18.9L315.3 17.9L315.5 17.0L315.8 16.1L316.1 15.2L316.4 14.3L316.7 13.5L317.0 12.6L317.2 11.8L317.5 10.9L317.8 10.1L318.1 9.3L318.4 8.5L318.6 7.7L318.9 7.0L319.2 6.3L319.5 5.5L319.8 4.8L320.0 4.2L320.3 3.5L320.6 2.9L320.9 2.2L321.2 1.6L321.4 1.0L321.7 0.5L322.0 -0.1L322.3 -0.6L322.6 -1.1L322.9 -1.6L323.1 -2.1L323.4 -2.6L323.7 -3.0L324.0 -3.5L324.3 -3.9L324.5 -4.3L324.8 -4.7L325.1 -5.1L325.4 -5.4L325.7 -5.8L325.9 -6.1L326.2 -6.4L326.5 -6.8L326.8 -7.1L327.1 -7.3L327.4 -7.6L327.6 -7.9L327.9 -8.1L328.2 -8.4L328.5 -8.6L328.8 -8.8L329.0 -9.1L329.3 -9.3L329.6 -9.5L329.9 -9.7L330.2 -9.9L330.4 -10.0L330.7 -10.2L331.0 -10.4L331.3 -10.5L331.6 -10.7L331.8 -10.8L332.1 -10.9L332.4 -11.1L332.7 -11.2L333.0 -11.3L333.3 -11.4L333.5 -11.6L333.8 -11.7L334.1 -11.8L334.4 -11.9L334.7 -11.9L334.9 -12.0L335.2 -12.1L335.5 -12.2" stroke="#9859a5" stroke-width="1.35" stroke-opacity="1.0" fill="none" stroke-linejoin="round" stroke-linecap="square"/>
<text x="282.75" y="60.80" font-size="3.8" text-anchor="middle">-0.2</text>
<text x="307.40" y="60.80" font-size="3.8" text-anchor="middle">0</text>
<text x="332.05" y="60.80" font-size="3.8" text-anchor="middle">0.2</text>
<text x="277.80" y="50.53" font-size="3.8" text-anchor="end">-1</text>
<text x="277.80" y="39.26" font-size="3.8" text-anchor="end">0</text>
<text x="277.80" y="27.99" font-size="3.8" text-anchor="end">1</text>
<rect x="13.20" y="138.60" width="187.25" height="90.60" fill="#fff"/>
<path d="M44.41 138.60V229.20M75.62 138.60V229.20M106.83 138.60V229.20M138.03 138.60V229.20M169.24 138.60V229.20M13.20 220.14H200.45M13.20 211.08H200.45M13.20 202.02H200.45M13.20 192.96H200.45M13.20 183.90H200.45M13.20 174.84H200.45M13.20 165.78H200.45M13.20 156.72H200.45M13.20 147.66H200.45" stroke="#ececec" stroke-width="0.6" fill="none"/>
<path d="M13.20 229.20v-2.00M13.20 138.60v2.00M44.41 229.20v-2.00M44.41 138.60v2.00M75.62 229.20v-2.00M75.62 138.60v2.00M106.83 229.20v-2.00M106.83 138.60v2.00M138.03 229.20v-2.00M138.03 138.60v2.00M169.24 229.20v-2.00M169.24 138.60v2.00M200.45 229.20v-2.00M200.45 138.60v2.00M13.20 229.20h2.00M200.45 229.20h-2.00M13.20 220.14h2.00M200.45 220.14h-2.00M13.20 211.08h2.00M200.45 211.08h-2.00M13.20 202.02h2.00M200.45 202.02h-2.00M13.20 192.96h2.00M200.45 192.96h-2.00M13.20 183.90h2.00M200.45 183.90h-2.00M13.20 174.84h2.00M200.45 174.84h-2.00M13.20 165.78h2.00M200.45 165.78h-2.00M13.20 156.72h2.00M200.45 156.72h-2.00M13.20 147.66h2.00M200.45 147.66h-2.00M13.20 138.60h2.00M200.45 138.60h-2.00" stroke="#999999" stroke-width="0.6" fill="none"/>
<path d="M13.20 138.10V229.70M200.45 138.10V229.70" stroke="#d6d6d6" stroke-width="1.0"/>
<path d="M12.70 138.60H200.95" stroke="#d4d4d4" stroke-width="1.0"/>
<path d="M12.70 229.20H200.95" stroke="#cacaca" stroke-width="1.0"/>
<clipPath id="c5x"><rect x="12.85" y="138.60" width="187.95" height="90.60"/></clipPath>
<path clip-path="url(#c5x)" d="M13.2 190.0L13.8 190.0L14.4 190.0L15.1 190.0L15.7 190.0L16.3 190.0L16.9 190.0L17.6 190.0L18.2 190.0L18.8 190.0L19.4 190.0L20.1 190.0L20.7 190.0L21.3 190.0L21.9 190.0L22.6 190.0L23.2 190.0L23.8 190.0L24.4 190.0L25.1 190.0L25.7 190.0L26.3 190.0L26.9 190.0L27.6 190.0L28.2 190.0L28.8 190.0L29.4 190.0L30.1 190.0L30.7 190.0L31.3 190.0L31.9 190.0L32.5 190.0L33.2 190.0L33.8 190.0L34.4 190.0L35.0 190.0L35.7 190.0L36.3 190.0L36.9 190.0L37.5 190.0L38.2 190.0L38.8 190.0L39.4 190.0L40.0 190.0L40.7 190.0L41.3 190.0L41.9 190.0L42.5 190.0L43.2 190.0L43.8 190.0L44.4 190.0L45.0 190.0L45.7 190.0L46.3 190.0L46.9 190.0L47.5 190.0L48.2 190.0L48.8 190.0L49.4 190.0L50.0 190.0L50.6 190.0L51.3 190.0L51.9 190.0L52.5 190.0L53.1 190.0L53.8 190.0L54.4 190.0L55.0 190.0L55.6 190.0L56.3 190.0L56.9 190.0L57.5 190.0L58.1 190.0L58.8 190.0L59.4 190.0L60.0 190.0L60.6 190.0L61.3 190.0L61.9 190.0L62.5 190.0L63.1 190.0L63.8 190.0L64.4 190.0L65.0 190.0L65.6 190.0L66.3 190.0L66.9 190.0L67.5 190.0L68.1 190.0L68.8 190.0L69.4 190.0L70.0 190.0L70.6 190.0L71.2 190.0L71.9 190.0L72.5 190.0L73.1 190.0L73.7 190.0L74.4 190.0L75.0 190.0L75.6 190.0L76.2 190.0L76.9 190.0L77.5 190.0L78.1 190.0L78.7 190.0L79.4 190.0L80.0 190.0L80.6 190.0L81.2 190.0L81.9 190.0L82.5 190.0L83.1 190.0L83.7 189.9L84.4 189.9L85.0 189.9L85.6 189.9L86.2 189.9L86.9 189.9L87.5 189.9L88.1 189.8L88.7 189.8L89.3 189.8L90.0 189.8L90.6 189.8L91.2 189.7L91.8 189.7L92.5 189.6L93.1 189.6L93.7 189.6L94.3 189.5L95.0 189.5L95.6 189.4L96.2 189.3L96.8 189.3L97.5 189.2L98.1 189.1L98.7 189.0L99.3 188.9L100.0 188.8L100.6 188.7L101.2 188.5L101.8 188.4L102.5 188.2L103.1 188.0L103.7 187.7L104.3 187.5L105.0 187.2L105.6 186.8L106.2 186.2L106.8 183.9L107.4 181.6L108.1 181.0L108.7 180.6L109.3 180.3L109.9 180.1L110.6 179.8L111.2 179.6L111.8 179.4L112.4 179.3L113.1 179.1L113.7 179.0L114.3 178.9L114.9 178.8L115.6 178.7L116.2 178.6L116.8 178.5L117.4 178.5L118.1 178.4L118.7 178.3L119.3 178.3L119.9 178.2L120.6 178.2L121.2 178.2L121.8 178.1L122.4 178.1L123.1 178.0L123.7 178.0L124.3 178.0L124.9 178.0L125.5 178.0L126.2 177.9L126.8 177.9L127.4 177.9L128.0 177.9L128.7 177.9L129.3 177.9L129.9 177.9L130.5 177.8L131.2 177.8L131.8 177.8L132.4 177.8L133.0 177.8L133.7 177.8L134.3 177.8L134.9 177.8L135.5 177.8L136.2 177.8L136.8 177.8L137.4 177.8L138.0 177.8L138.7 177.8L139.3 177.8L139.9 177.8L140.5 177.8L141.2 177.8L141.8 177.8L142.4 177.8L143.0 177.8L143.7 177.8L144.3 177.8L144.9 177.8L145.5 177.8L146.1 177.8L146.8 177.8L147.4 177.8L148.0 177.8L148.6 177.8L149.3 177.8L149.9 177.8L150.5 177.8L151.1 177.8L151.8 177.8L152.4 177.8L153.0 177.8L153.6 177.8L154.3 177.8L154.9 177.8L155.5 177.8L156.1 177.8L156.8 177.8L157.4 177.8L158.0 177.8L158.6 177.8L159.3 177.8L159.9 177.8L160.5 177.8L161.1 177.8L161.8 177.8L162.4 177.8L163.0 177.8L163.6 177.8L164.2 177.8L164.9 177.8L165.5 177.8L166.1 177.8L166.7 177.8L167.4 177.8L168.0 177.8L168.6 177.8L169.2 177.8L169.9 177.8L170.5 177.8L171.1 177.8L171.7 177.8L172.4 177.8L173.0 177.8L173.6 177.8L174.2 177.8L174.9 177.8L175.5 177.8L176.1 177.8L176.7 177.8L177.4 177.8L178.0 177.8L178.6 177.8L179.2 177.8L179.9 177.8L180.5 177.8L181.1 177.8L181.7 177.8L182.3 177.8L183.0 177.8L183.6 177.8L184.2 177.8L184.8 177.8L185.5 177.8L186.1 177.8L186.7 177.8L187.3 177.8L188.0 177.8L188.6 177.8L189.2 177.8L189.8 177.8L190.5 177.8L191.1 177.8L191.7 177.8L192.3 177.8L193.0 177.8L193.6 177.8L194.2 177.8L194.8 177.8L195.5 177.8L196.1 177.8L196.7 177.8L197.3 177.8L198.0 177.8L198.6 177.8L199.2 177.8L199.8 177.8L200.4 177.8" stroke="#338eca" stroke-width="1.35" stroke-opacity="1.0" fill="none" stroke-linejoin="round" stroke-linecap="square"/>
<path clip-path="url(#c5x)" d="M13.2 195.2L13.8 195.2L14.4 195.2L15.1 195.2L15.7 195.2L16.3 195.2L16.9 195.2L17.6 195.2L18.2 195.2L18.8 195.2L19.4 195.2L20.1 195.2L20.7 195.2L21.3 195.2L21.9 195.2L22.6 195.2L23.2 195.2L23.8 195.2L24.4 195.2L25.1 195.2L25.7 195.2L26.3 195.2L26.9 195.2L27.6 195.2L28.2 195.2L28.8 195.2L29.4 195.2L30.1 195.2L30.7 195.2L31.3 195.2L31.9 195.2L32.5 195.2L33.2 195.2L33.8 195.2L34.4 195.2L35.0 195.2L35.7 195.2L36.3 195.2L36.9 195.2L37.5 195.2L38.2 195.2L38.8 195.2L39.4 195.2L40.0 195.2L40.7 195.2L41.3 195.2L41.9 195.2L42.5 195.2L43.2 195.2L43.8 195.2L44.4 195.2L45.0 195.2L45.7 195.2L46.3 195.2L46.9 195.2L47.5 195.2L48.2 195.2L48.8 195.2L49.4 195.2L50.0 195.2L50.6 195.2L51.3 195.2L51.9 195.2L52.5 195.2L53.1 195.2L53.8 195.2L54.4 195.2L55.0 195.2L55.6 195.2L56.3 195.2L56.9 195.2L57.5 195.2L58.1 195.2L58.8 195.2L59.4 195.2L60.0 195.2L60.6 195.2L61.3 195.2L61.9 195.2L62.5 195.2L63.1 195.2L63.8 195.2L64.4 195.2L65.0 195.2L65.6 195.2L66.3 195.2L66.9 195.2L67.5 195.2L68.1 195.2L68.8 195.2L69.4 195.2L70.0 195.2L70.6 195.2L71.2 195.1L71.9 195.1L72.5 195.1L73.1 195.1L73.7 195.1L74.4 195.1L75.0 195.1L75.6 195.1L76.2 195.1L76.9 195.0L77.5 195.0L78.1 195.0L78.7 195.0L79.4 195.0L80.0 194.9L80.6 194.9L81.2 194.9L81.9 194.8L82.5 194.8L83.1 194.7L83.7 194.7L84.4 194.6L85.0 194.6L85.6 194.5L86.2 194.4L86.9 194.3L87.5 194.2L88.1 194.2L88.7 194.0L89.3 193.9L90.0 193.8L90.6 193.7L91.2 193.5L91.8 193.3L92.5 193.2L93.1 193.0L93.7 192.8L94.3 192.5L95.0 192.3L95.6 192.0L96.2 191.7L96.8 191.4L97.5 191.1L98.1 190.7L98.7 190.4L99.3 190.0L100.0 189.6L100.6 189.1L101.2 188.7L101.8 188.2L102.5 187.7L103.1 187.2L103.7 186.7L104.3 186.1L105.0 185.6L105.6 185.0L106.2 184.5L106.8 183.9L107.4 183.3L108.1 182.8L108.7 182.2L109.3 181.7L109.9 181.1L110.6 180.6L111.2 180.1L111.8 179.6L112.4 179.1L113.1 178.7L113.7 178.2L114.3 177.8L114.9 177.4L115.6 177.1L116.2 176.7L116.8 176.4L117.4 176.1L118.1 175.8L118.7 175.5L119.3 175.3L119.9 175.0L120.6 174.8L121.2 174.6L121.8 174.5L122.4 174.3L123.1 174.1L123.7 174.0L124.3 173.9L124.9 173.8L125.5 173.6L126.2 173.6L126.8 173.5L127.4 173.4L128.0 173.3L128.7 173.2L129.3 173.2L129.9 173.1L130.5 173.1L131.2 173.0L131.8 173.0L132.4 172.9L133.0 172.9L133.7 172.9L134.3 172.8L134.9 172.8L135.5 172.8L136.2 172.8L136.8 172.8L137.4 172.7L138.0 172.7L138.7 172.7L139.3 172.7L139.9 172.7L140.5 172.7L141.2 172.7L141.8 172.7L142.4 172.7L143.0 172.6L143.7 172.6L144.3 172.6L144.9 172.6L145.5 172.6L146.1 172.6L146.8 172.6L147.4 172.6L148.0 172.6L148.6 172.6L149.3 172.6L149.9 172.6L150.5 172.6L151.1 172.6L151.8 172.6L152.4 172.6L153.0 172.6L153.6 172.6L154.3 172.6L154.9 172.6L155.5 172.6L156.1 172.6L156.8 172.6L157.4 172.6L158.0 172.6L158.6 172.6L159.3 172.6L159.9 172.6L160.5 172.6L161.1 172.6L161.8 172.6L162.4 172.6L163.0 172.6L163.6 172.6L164.2 172.6L164.9 172.6L165.5 172.6L166.1 172.6L166.7 172.6L167.4 172.6L168.0 172.6L168.6 172.6L169.2 172.6L169.9 172.6L170.5 172.6L171.1 172.6L171.7 172.6L172.4 172.6L173.0 172.6L173.6 172.6L174.2 172.6L174.9 172.6L175.5 172.6L176.1 172.6L176.7 172.6L177.4 172.6L178.0 172.6L178.6 172.6L179.2 172.6L179.9 172.6L180.5 172.6L181.1 172.6L181.7 172.6L182.3 172.6L183.0 172.6L183.6 172.6L184.2 172.6L184.8 172.6L185.5 172.6L186.1 172.6L186.7 172.6L187.3 172.6L188.0 172.6L188.6 172.6L189.2 172.6L189.8 172.6L190.5 172.6L191.1 172.6L191.7 172.6L192.3 172.6L193.0 172.6L193.6 172.6L194.2 172.6L194.8 172.6L195.5 172.6L196.1 172.6L196.7 172.6L197.3 172.6L198.0 172.6L198.6 172.6L199.2 172.6L199.8 172.6L200.4 172.6" stroke="#e17547" stroke-width="1.35" stroke-opacity="1.0" fill="none" stroke-linejoin="round" stroke-linecap="square"/>
<path clip-path="url(#c5x)" d="M13.2 204.8L13.8 204.8L14.4 204.8L15.1 204.8L15.7 204.8L16.3 204.8L16.9 204.8L17.6 204.8L18.2 204.8L18.8 204.8L19.4 204.8L20.1 204.8L20.7 204.8L21.3 204.8L21.9 204.8L22.6 204.8L23.2 204.8L23.8 204.8L24.4 204.8L25.1 204.8L25.7 204.8L26.3 204.8L26.9 204.8L27.6 204.8L28.2 204.8L28.8 204.8L29.4 204.8L30.1 204.8L30.7 204.8L31.3 204.8L31.9 204.8L32.5 204.8L33.2 204.8L33.8 204.8L34.4 204.8L35.0 204.8L35.7 204.8L36.3 204.8L36.9 204.8L37.5 204.8L38.2 204.8L38.8 204.8L39.4 204.8L40.0 204.8L40.7 204.8L41.3 204.8L41.9 204.8L42.5 204.8L43.2 204.8L43.8 204.8L44.4 204.8L45.0 204.8L45.7 204.8L46.3 204.8L46.9 204.8L47.5 204.8L48.2 204.8L48.8 204.8L49.4 204.8L50.0 204.8L50.6 204.8L51.3 204.8L51.9 204.8L52.5 204.7L53.1 204.7L53.8 204.7L54.4 204.7L55.0 204.7L55.6 204.7L56.3 204.7L56.9 204.7L57.5 204.7L58.1 204.7L58.8 204.7L59.4 204.7L60.0 204.7L60.6 204.7L61.3 204.7L61.9 204.7L62.5 204.7L63.1 204.7L63.8 204.7L64.4 204.7L65.0 204.7L65.6 204.7L66.3 204.7L66.9 204.6L67.5 204.6L68.1 204.6L68.8 204.6L69.4 204.6L70.0 204.6L70.6 204.6L71.2 204.5L71.9 204.5L72.5 204.5L73.1 204.4L73.7 204.4L74.4 204.4L75.0 204.3L75.6 204.3L76.2 204.2L76.9 204.2L77.5 204.1L78.1 204.1L78.7 204.0L79.4 203.9L80.0 203.8L80.6 203.7L81.2 203.6L81.9 203.5L82.5 203.4L83.1 203.3L83.7 203.1L84.4 202.9L85.0 202.8L85.6 202.6L86.2 202.3L86.9 202.1L87.5 201.9L88.1 201.6L88.7 201.3L89.3 200.9L90.0 200.6L90.6 200.2L91.2 199.8L91.8 199.3L92.5 198.8L93.1 198.3L93.7 197.7L94.3 197.1L95.0 196.5L95.6 195.9L96.2 195.2L96.8 194.4L97.5 193.7L98.1 192.9L98.7 192.1L99.3 191.3L100.0 190.5L100.6 189.7L101.2 188.9L101.8 188.1L102.5 187.3L103.1 186.6L103.7 185.9L104.3 185.3L105.0 184.8L105.6 184.3L106.2 184.0L106.8 183.9L107.4 183.8L108.1 183.5L108.7 183.0L109.3 182.5L109.9 181.9L110.6 181.2L111.2 180.5L111.8 179.7L112.4 178.9L113.1 178.1L113.7 177.3L114.3 176.5L114.9 175.7L115.6 174.9L116.2 174.1L116.8 173.4L117.4 172.6L118.1 171.9L118.7 171.3L119.3 170.7L119.9 170.1L120.6 169.5L121.2 169.0L121.8 168.5L122.4 168.0L123.1 167.6L123.7 167.2L124.3 166.9L124.9 166.5L125.5 166.2L126.2 165.9L126.8 165.7L127.4 165.5L128.0 165.2L128.7 165.0L129.3 164.9L129.9 164.7L130.5 164.5L131.2 164.4L131.8 164.3L132.4 164.2L133.0 164.1L133.7 164.0L134.3 163.9L134.9 163.8L135.5 163.7L136.2 163.7L136.8 163.6L137.4 163.6L138.0 163.5L138.7 163.5L139.3 163.4L139.9 163.4L140.5 163.4L141.2 163.3L141.8 163.3L142.4 163.3L143.0 163.2L143.7 163.2L144.3 163.2L144.9 163.2L145.5 163.2L146.1 163.2L146.8 163.2L147.4 163.1L148.0 163.1L148.6 163.1L149.3 163.1L149.9 163.1L150.5 163.1L151.1 163.1L151.8 163.1L152.4 163.1L153.0 163.1L153.6 163.1L154.3 163.1L154.9 163.1L155.5 163.1L156.1 163.1L156.8 163.1L157.4 163.1L158.0 163.1L158.6 163.1L159.3 163.1L159.9 163.1L160.5 163.1L161.1 163.1L161.8 163.0L162.4 163.0L163.0 163.0L163.6 163.0L164.2 163.0L164.9 163.0L165.5 163.0L166.1 163.0L166.7 163.0L167.4 163.0L168.0 163.0L168.6 163.0L169.2 163.0L169.9 163.0L170.5 163.0L171.1 163.0L171.7 163.0L172.4 163.0L173.0 163.0L173.6 163.0L174.2 163.0L174.9 163.0L175.5 163.0L176.1 163.0L176.7 163.0L177.4 163.0L178.0 163.0L178.6 163.0L179.2 163.0L179.9 163.0L180.5 163.0L181.1 163.0L181.7 163.0L182.3 163.0L183.0 163.0L183.6 163.0L184.2 163.0L184.8 163.0L185.5 163.0L186.1 163.0L186.7 163.0L187.3 163.0L188.0 163.0L188.6 163.0L189.2 163.0L189.8 163.0L190.5 163.0L191.1 163.0L191.7 163.0L192.3 163.0L193.0 163.0L193.6 163.0L194.2 163.0L194.8 163.0L195.5 163.0L196.1 163.0L196.7 163.0L197.3 163.0L198.0 163.0L198.6 163.0L199.2 163.0L199.8 163.0L200.4 163.0" stroke="#f1c14d" stroke-width="1.35" stroke-opacity="1.0" fill="none" stroke-linejoin="round" stroke-linecap="square"/>
<path clip-path="url(#c5x)" d="M13.2 222.3L13.8 222.3L14.4 222.3L15.1 222.3L15.7 222.3L16.3 222.3L16.9 222.3L17.6 222.3L18.2 222.3L18.8 222.3L19.4 222.3L20.1 222.3L20.7 222.3L21.3 222.3L21.9 222.3L22.6 222.3L23.2 222.3L23.8 222.3L24.4 222.3L25.1 222.3L25.7 222.3L26.3 222.3L26.9 222.3L27.6 222.3L28.2 222.3L28.8 222.3L29.4 222.3L30.1 222.3L30.7 222.3L31.3 222.3L31.9 222.3L32.5 222.3L33.2 222.3L33.8 222.3L34.4 222.3L35.0 222.3L35.7 222.3L36.3 222.3L36.9 222.3L37.5 222.3L38.2 222.3L38.8 222.3L39.4 222.3L40.0 222.3L40.7 222.3L41.3 222.3L41.9 222.3L42.5 222.3L43.2 222.3L43.8 222.3L44.4 222.3L45.0 222.3L45.7 222.3L46.3 222.3L46.9 222.3L47.5 222.3L48.2 222.3L48.8 222.3L49.4 222.3L50.0 222.3L50.6 222.3L51.3 222.3L51.9 222.3L52.5 222.3L53.1 222.3L53.8 222.3L54.4 222.3L55.0 222.3L55.6 222.3L56.3 222.3L56.9 222.3L57.5 222.3L58.1 222.3L58.8 222.2L59.4 222.2L60.0 222.2L60.6 222.2L61.3 222.2L61.9 222.2L62.5 222.2L63.1 222.2L63.8 222.1L64.4 222.1L65.0 222.1L65.6 222.1L66.3 222.1L66.9 222.0L67.5 222.0L68.1 222.0L68.8 221.9L69.4 221.9L70.0 221.8L70.6 221.8L71.2 221.7L71.9 221.7L72.5 221.6L73.1 221.5L73.7 221.4L74.4 221.3L75.0 221.2L75.6 221.1L76.2 221.0L76.9 220.9L77.5 220.7L78.1 220.6L78.7 220.4L79.4 220.2L80.0 220.0L80.6 219.7L81.2 219.5L81.9 219.2L82.5 218.9L83.1 218.5L83.7 218.1L84.4 217.7L85.0 217.3L85.6 216.8L86.2 216.2L86.9 215.7L87.5 215.0L88.1 214.4L88.7 213.6L89.3 212.8L90.0 212.0L90.6 211.1L91.2 210.1L91.8 209.0L92.5 207.9L93.1 206.8L93.7 205.5L94.3 204.3L95.0 202.9L95.6 201.5L96.2 200.1L96.8 198.7L97.5 197.2L98.1 195.8L98.7 194.3L99.3 192.9L100.0 191.5L100.6 190.2L101.2 189.0L101.8 187.9L102.5 186.9L103.1 186.1L103.7 185.3L104.3 184.8L105.0 184.4L105.6 184.1L106.2 183.9L106.8 183.9L107.4 183.9L108.1 183.7L108.7 183.4L109.3 183.0L109.9 182.5L110.6 181.7L111.2 180.9L111.8 179.9L112.4 178.8L113.1 177.6L113.7 176.3L114.3 174.9L114.9 173.5L115.6 172.0L116.2 170.6L116.8 169.1L117.4 167.7L118.1 166.3L118.7 164.9L119.3 163.5L119.9 162.3L120.6 161.0L121.2 159.9L121.8 158.8L122.4 157.7L123.1 156.7L123.7 155.8L124.3 155.0L124.9 154.2L125.5 153.4L126.2 152.8L126.8 152.1L127.4 151.6L128.0 151.0L128.7 150.5L129.3 150.1L129.9 149.7L130.5 149.3L131.2 148.9L131.8 148.6L132.4 148.3L133.0 148.1L133.7 147.8L134.3 147.6L134.9 147.4L135.5 147.2L136.2 147.1L136.8 146.9L137.4 146.8L138.0 146.7L138.7 146.6L139.3 146.5L139.9 146.4L140.5 146.3L141.2 146.2L141.8 146.1L142.4 146.1L143.0 146.0L143.7 146.0L144.3 145.9L144.9 145.9L145.5 145.8L146.1 145.8L146.8 145.8L147.4 145.7L148.0 145.7L148.6 145.7L149.3 145.7L149.9 145.7L150.5 145.6L151.1 145.6L151.8 145.6L152.4 145.6L153.0 145.6L153.6 145.6L154.3 145.6L154.9 145.6L155.5 145.5L156.1 145.5L156.8 145.5L157.4 145.5L158.0 145.5L158.6 145.5L159.3 145.5L159.9 145.5L160.5 145.5L161.1 145.5L161.8 145.5L162.4 145.5L163.0 145.5L163.6 145.5L164.2 145.5L164.9 145.5L165.5 145.5L166.1 145.5L166.7 145.5L167.4 145.5L168.0 145.5L168.6 145.5L169.2 145.5L169.9 145.5L170.5 145.5L171.1 145.5L171.7 145.5L172.4 145.5L173.0 145.5L173.6 145.5L174.2 145.5L174.9 145.5L175.5 145.5L176.1 145.5L176.7 145.5L177.4 145.5L178.0 145.5L178.6 145.5L179.2 145.5L179.9 145.5L180.5 145.5L181.1 145.5L181.7 145.5L182.3 145.5L183.0 145.5L183.6 145.5L184.2 145.5L184.8 145.5L185.5 145.5L186.1 145.5L186.7 145.5L187.3 145.5L188.0 145.5L188.6 145.5L189.2 145.5L189.8 145.5L190.5 145.5L191.1 145.5L191.7 145.5L192.3 145.5L193.0 145.5L193.6 145.5L194.2 145.5L194.8 145.5L195.5 145.5L196.1 145.5L196.7 145.5L197.3 145.5L198.0 145.5L198.6 145.5L199.2 145.5L199.8 145.5L200.4 145.5" stroke="#9859a5" stroke-width="1.35" stroke-opacity="1.0" fill="none" stroke-linejoin="round" stroke-linecap="square"/>
<text x="13.20" y="234.90" font-size="3.8" text-anchor="middle">-3</text>
<text x="44.41" y="234.90" font-size="3.8" text-anchor="middle">-2</text>
<text x="75.62" y="234.90" font-size="3.8" text-anchor="middle">-1</text>
<text x="106.83" y="234.90" font-size="3.8" text-anchor="middle">0</text>
<text x="138.03" y="234.90" font-size="3.8" text-anchor="middle">1</text>
<text x="169.24" y="234.90" font-size="3.8" text-anchor="middle">2</text>
<text x="200.45" y="234.90" font-size="3.8" text-anchor="middle">3</text>
<text x="11.70" y="230.56" font-size="3.8" text-anchor="end">-10</text>
<text x="11.70" y="221.50" font-size="3.8" text-anchor="end">-8</text>
<text x="11.70" y="212.44" font-size="3.8" text-anchor="end">-6</text>
<text x="11.70" y="203.38" font-size="3.8" text-anchor="end">-4</text>
<text x="11.70" y="194.32" font-size="3.8" text-anchor="end">-2</text>
<text x="11.70" y="185.26" font-size="3.8" text-anchor="end">0</text>
<text x="11.70" y="176.20" font-size="3.8" text-anchor="end">2</text>
<text x="11.70" y="167.14" font-size="3.8" text-anchor="end">4</text>
<text x="11.70" y="158.08" font-size="3.8" text-anchor="end">6</text>
<text x="11.70" y="149.02" font-size="3.8" text-anchor="end">8</text>
<text x="11.70" y="139.96" font-size="3.8" text-anchor="end">10</text>
<rect x="153.10" y="201.10" width="43.40" height="20.70" fill="#fff" stroke="#c4c4c4" stroke-width="0.8"/>
<path d="M154.30 204.50H165.80" stroke="#2687c7" stroke-width="1.15" stroke-opacity="1.0"/>
<text class="lg" x="167.00" y="206.00" font-size="3.45">a=2.5,b=2.5,c=1/3</text>
<path d="M154.30 209.30H165.80" stroke="#df6d3c" stroke-width="1.15" stroke-opacity="1.0"/>
<text class="lg" x="167.00" y="211.00" font-size="3.45">a=2.5,b=2.5,c=3/3</text>
<path d="M154.30 214.10H165.80" stroke="#f0bd41" stroke-width="1.15" stroke-opacity="1.0"/>
<text class="lg" x="167.00" y="215.00" font-size="3.45">a=2.5,b=2.5,c=5/3</text>
<path d="M154.30 218.90H165.80" stroke="#914e9f" stroke-width="1.15" stroke-opacity="1.0"/>
<text class="lg" x="167.00" y="220.00" font-size="3.45">a=2.5,b=2.5,c=7/3</text>
<rect x="31.60" y="144.30" width="52.30" height="31.40" fill="#fff"/>
<path d="M40.60 144.30V175.70M57.75 144.30V175.70M74.90 144.30V175.70M31.60 160.00H83.90" stroke="#ececec" stroke-width="0.6" fill="none"/>
<path d="M40.60 175.70v-2.00M40.60 144.30v2.00M57.75 175.70v-2.00M57.75 144.30v2.00M74.90 175.70v-2.00M74.90 144.30v2.00M31.60 175.70h2.00M83.90 175.70h-2.00M31.60 160.00h2.00M83.90 160.00h-2.00M31.60 144.30h2.00M83.90 144.30h-2.00" stroke="#999999" stroke-width="0.6" fill="none"/>
<path d="M31.60 143.80V176.20M83.90 143.80V176.20" stroke="#d6d6d6" stroke-width="1.0"/>
<path d="M31.10 144.30H84.40" stroke="#d4d4d4" stroke-width="1.0"/>
<path d="M31.10 175.70H84.40" stroke="#cacaca" stroke-width="1.0"/>
<clipPath id="c6x"><rect x="31.25" y="144.30" width="53.00" height="31.40"/></clipPath>
<path clip-path="url(#c6x)" d="M31.6 169.2L31.9 169.2L32.1 169.2L32.4 169.1L32.6 169.1L32.9 169.1L33.2 169.1L33.4 169.0L33.7 169.0L34.0 169.0L34.2 169.0L34.5 168.9L34.7 168.9L35.0 168.9L35.3 168.9L35.5 168.8L35.8 168.8L36.0 168.8L36.3 168.8L36.6 168.7L36.8 168.7L37.1 168.7L37.4 168.6L37.6 168.6L37.9 168.6L38.1 168.5L38.4 168.5L38.7 168.5L38.9 168.5L39.2 168.4L39.4 168.4L39.7 168.4L40.0 168.3L40.2 168.3L40.5 168.3L40.8 168.2L41.0 168.2L41.3 168.1L41.5 168.1L41.8 168.1L42.1 168.0L42.3 168.0L42.6 168.0L42.8 167.9L43.1 167.9L43.4 167.8L43.6 167.8L43.9 167.7L44.2 167.7L44.4 167.7L44.7 167.6L44.9 167.6L45.2 167.5L45.5 167.5L45.7 167.4L46.0 167.4L46.2 167.3L46.5 167.3L46.8 167.2L47.0 167.2L47.3 167.1L47.6 167.0L47.8 167.0L48.1 166.9L48.3 166.9L48.6 166.8L48.9 166.7L49.1 166.7L49.4 166.6L49.6 166.5L49.9 166.5L50.2 166.4L50.4 166.3L50.7 166.3L51.0 166.2L51.2 166.1L51.5 166.0L51.7 165.9L52.0 165.9L52.3 165.8L52.5 165.7L52.8 165.6L53.0 165.5L53.3 165.4L53.6 165.3L53.8 165.2L54.1 165.0L54.4 164.9L54.6 164.8L54.9 164.7L55.1 164.5L55.4 164.4L55.7 164.2L55.9 164.0L56.2 163.8L56.4 163.6L56.7 163.3L57.0 163.0L57.2 162.6L57.5 162.1L57.8 160.0L58.0 157.9L58.3 157.4L58.5 157.0L58.8 156.7L59.1 156.4L59.3 156.2L59.6 156.0L59.8 155.8L60.1 155.6L60.4 155.5L60.6 155.3L60.9 155.2L61.1 155.1L61.4 155.0L61.7 154.8L61.9 154.7L62.2 154.6L62.5 154.5L62.7 154.4L63.0 154.3L63.2 154.2L63.5 154.1L63.8 154.1L64.0 154.0L64.3 153.9L64.5 153.8L64.8 153.7L65.1 153.7L65.3 153.6L65.6 153.5L65.9 153.5L66.1 153.4L66.4 153.3L66.6 153.3L66.9 153.2L67.2 153.1L67.4 153.1L67.7 153.0L67.9 153.0L68.2 152.9L68.5 152.8L68.7 152.8L69.0 152.7L69.3 152.7L69.5 152.6L69.8 152.6L70.0 152.5L70.3 152.5L70.6 152.4L70.8 152.4L71.1 152.3L71.3 152.3L71.6 152.3L71.9 152.2L72.1 152.2L72.4 152.1L72.7 152.1L72.9 152.0L73.2 152.0L73.4 152.0L73.7 151.9L74.0 151.9L74.2 151.9L74.5 151.8L74.7 151.8L75.0 151.7L75.3 151.7L75.5 151.7L75.8 151.6L76.1 151.6L76.3 151.6L76.6 151.5L76.8 151.5L77.1 151.5L77.4 151.5L77.6 151.4L77.9 151.4L78.1 151.4L78.4 151.3L78.7 151.3L78.9 151.3L79.2 151.2L79.5 151.2L79.7 151.2L80.0 151.2L80.2 151.1L80.5 151.1L80.8 151.1L81.0 151.1L81.3 151.0L81.5 151.0L81.8 151.0L82.1 151.0L82.3 150.9L82.6 150.9L82.9 150.9L83.1 150.9L83.4 150.8L83.6 150.8L83.9 150.8" stroke="#338eca" stroke-width="1.35" stroke-opacity="1.0" fill="none" stroke-linejoin="round" stroke-linecap="square"/>
<path clip-path="url(#c6x)" d="M31.6 172.6L31.9 172.5L32.1 172.4L32.4 172.3L32.6 172.3L32.9 172.2L33.2 172.1L33.4 172.0L33.7 171.9L34.0 171.8L34.2 171.7L34.5 171.6L34.7 171.5L35.0 171.4L35.3 171.3L35.5 171.2L35.8 171.1L36.0 171.0L36.3 170.9L36.6 170.8L36.8 170.7L37.1 170.6L37.4 170.5L37.6 170.4L37.9 170.3L38.1 170.1L38.4 170.0L38.7 169.9L38.9 169.8L39.2 169.7L39.4 169.6L39.7 169.5L40.0 169.4L40.2 169.2L40.5 169.1L40.8 169.0L41.0 168.9L41.3 168.8L41.5 168.6L41.8 168.5L42.1 168.4L42.3 168.3L42.6 168.2L42.8 168.0L43.1 167.9L43.4 167.8L43.6 167.7L43.9 167.5L44.2 167.4L44.4 167.3L44.7 167.1L44.9 167.0L45.2 166.9L45.5 166.7L45.7 166.6L46.0 166.5L46.2 166.3L46.5 166.2L46.8 166.1L47.0 165.9L47.3 165.8L47.6 165.7L47.8 165.5L48.1 165.4L48.3 165.3L48.6 165.1L48.9 165.0L49.1 164.8L49.4 164.7L49.6 164.6L49.9 164.4L50.2 164.3L50.4 164.1L50.7 164.0L51.0 163.8L51.2 163.7L51.5 163.6L51.7 163.4L52.0 163.3L52.3 163.1L52.5 163.0L52.8 162.8L53.0 162.7L53.3 162.5L53.6 162.4L53.8 162.2L54.1 162.1L54.4 161.9L54.6 161.8L54.9 161.6L55.1 161.5L55.4 161.3L55.7 161.2L55.9 161.0L56.2 160.9L56.4 160.7L56.7 160.6L57.0 160.4L57.2 160.3L57.5 160.1L57.8 160.0L58.0 159.9L58.3 159.7L58.5 159.6L58.8 159.4L59.1 159.3L59.3 159.1L59.6 159.0L59.8 158.8L60.1 158.7L60.4 158.5L60.6 158.4L60.9 158.2L61.1 158.1L61.4 157.9L61.7 157.8L61.9 157.6L62.2 157.5L62.5 157.3L62.7 157.2L63.0 157.0L63.2 156.9L63.5 156.7L63.8 156.6L64.0 156.4L64.3 156.3L64.5 156.2L64.8 156.0L65.1 155.9L65.3 155.7L65.6 155.6L65.9 155.4L66.1 155.3L66.4 155.2L66.6 155.0L66.9 154.9L67.2 154.7L67.4 154.6L67.7 154.5L67.9 154.3L68.2 154.2L68.5 154.1L68.7 153.9L69.0 153.8L69.3 153.7L69.5 153.5L69.8 153.4L70.0 153.3L70.3 153.1L70.6 153.0L70.8 152.9L71.1 152.7L71.3 152.6L71.6 152.5L71.9 152.3L72.1 152.2L72.4 152.1L72.7 152.0L72.9 151.8L73.2 151.7L73.4 151.6L73.7 151.5L74.0 151.4L74.2 151.2L74.5 151.1L74.7 151.0L75.0 150.9L75.3 150.8L75.5 150.6L75.8 150.5L76.1 150.4L76.3 150.3L76.6 150.2L76.8 150.1L77.1 150.0L77.4 149.9L77.6 149.7L77.9 149.6L78.1 149.5L78.4 149.4L78.7 149.3L78.9 149.2L79.2 149.1L79.5 149.0L79.7 148.9L80.0 148.8L80.2 148.7L80.5 148.6L80.8 148.5L81.0 148.4L81.3 148.3L81.5 148.2L81.8 148.1L82.1 148.0L82.3 147.9L82.6 147.8L82.9 147.7L83.1 147.7L83.4 147.6L83.6 147.5L83.9 147.4" stroke="#e17547" stroke-width="1.35" stroke-opacity="1.0" fill="none" stroke-linejoin="round" stroke-linecap="square"/>
<path clip-path="url(#c6x)" d="M31.6 177.3L31.9 177.1L32.1 176.9L32.4 176.7L32.6 176.5L32.9 176.3L33.2 176.1L33.4 175.9L33.7 175.7L34.0 175.4L34.2 175.2L34.5 175.0L34.7 174.8L35.0 174.6L35.3 174.4L35.5 174.2L35.8 174.0L36.0 173.8L36.3 173.5L36.6 173.3L36.8 173.1L37.1 172.9L37.4 172.7L37.6 172.5L37.9 172.2L38.1 172.0L38.4 171.8L38.7 171.6L38.9 171.4L39.2 171.2L39.4 170.9L39.7 170.7L40.0 170.5L40.2 170.3L40.5 170.1L40.8 169.9L41.0 169.6L41.3 169.4L41.5 169.2L41.8 169.0L42.1 168.8L42.3 168.6L42.6 168.4L42.8 168.2L43.1 167.9L43.4 167.7L43.6 167.5L43.9 167.3L44.2 167.1L44.4 166.9L44.7 166.7L44.9 166.5L45.2 166.3L45.5 166.1L45.7 165.9L46.0 165.7L46.2 165.5L46.5 165.3L46.8 165.1L47.0 164.9L47.3 164.7L47.6 164.6L47.8 164.4L48.1 164.2L48.3 164.0L48.6 163.8L48.9 163.7L49.1 163.5L49.4 163.3L49.6 163.2L49.9 163.0L50.2 162.8L50.4 162.7L50.7 162.5L51.0 162.4L51.2 162.2L51.5 162.1L51.7 162.0L52.0 161.8L52.3 161.7L52.5 161.6L52.8 161.4L53.0 161.3L53.3 161.2L53.6 161.1L53.8 161.0L54.1 160.9L54.4 160.8L54.6 160.7L54.9 160.6L55.1 160.5L55.4 160.4L55.7 160.3L55.9 160.3L56.2 160.2L56.4 160.2L56.7 160.1L57.0 160.1L57.2 160.0L57.5 160.0L57.8 160.0L58.0 160.0L58.3 160.0L58.5 159.9L58.8 159.9L59.1 159.8L59.3 159.8L59.6 159.7L59.8 159.7L60.1 159.6L60.4 159.5L60.6 159.4L60.9 159.3L61.1 159.2L61.4 159.1L61.7 159.0L61.9 158.9L62.2 158.8L62.5 158.7L62.7 158.6L63.0 158.4L63.2 158.3L63.5 158.2L63.8 158.0L64.0 157.9L64.3 157.8L64.5 157.6L64.8 157.5L65.1 157.3L65.3 157.2L65.6 157.0L65.9 156.8L66.1 156.7L66.4 156.5L66.6 156.3L66.9 156.2L67.2 156.0L67.4 155.8L67.7 155.6L67.9 155.4L68.2 155.3L68.5 155.1L68.7 154.9L69.0 154.7L69.3 154.5L69.5 154.3L69.8 154.1L70.0 153.9L70.3 153.7L70.6 153.5L70.8 153.3L71.1 153.1L71.3 152.9L71.6 152.7L71.9 152.5L72.1 152.3L72.4 152.1L72.7 151.8L72.9 151.6L73.2 151.4L73.4 151.2L73.7 151.0L74.0 150.8L74.2 150.6L74.5 150.4L74.7 150.1L75.0 149.9L75.3 149.7L75.5 149.5L75.8 149.3L76.1 149.1L76.3 148.8L76.6 148.6L76.8 148.4L77.1 148.2L77.4 148.0L77.6 147.8L77.9 147.5L78.1 147.3L78.4 147.1L78.7 146.9L78.9 146.7L79.2 146.5L79.5 146.2L79.7 146.0L80.0 145.8L80.2 145.6L80.5 145.4L80.8 145.2L81.0 145.0L81.3 144.8L81.5 144.6L81.8 144.3L82.1 144.1L82.3 143.9L82.6 143.7L82.9 143.5L83.1 143.3L83.4 143.1L83.6 142.9L83.9 142.7" stroke="#f1c14d" stroke-width="1.35" stroke-opacity="1.0" fill="none" stroke-linejoin="round" stroke-linecap="square"/>
<path clip-path="url(#c6x)" d="M31.6 183.7L31.9 183.3L32.1 183.0L32.4 182.6L32.6 182.2L32.9 181.8L33.2 181.4L33.4 181.0L33.7 180.6L34.0 180.3L34.2 179.9L34.5 179.5L34.7 179.1L35.0 178.7L35.3 178.3L35.5 178.0L35.8 177.6L36.0 177.2L36.3 176.8L36.6 176.5L36.8 176.1L37.1 175.7L37.4 175.4L37.6 175.0L37.9 174.6L38.1 174.3L38.4 173.9L38.7 173.6L38.9 173.2L39.2 172.8L39.4 172.5L39.7 172.2L40.0 171.8L40.2 171.5L40.5 171.1L40.8 170.8L41.0 170.5L41.3 170.1L41.5 169.8L41.8 169.5L42.1 169.2L42.3 168.9L42.6 168.6L42.8 168.3L43.1 168.0L43.4 167.7L43.6 167.4L43.9 167.1L44.2 166.8L44.4 166.6L44.7 166.3L44.9 166.0L45.2 165.8L45.5 165.5L45.7 165.3L46.0 165.0L46.2 164.8L46.5 164.5L46.8 164.3L47.0 164.1L47.3 163.9L47.6 163.7L47.8 163.5L48.1 163.3L48.3 163.1L48.6 162.9L48.9 162.7L49.1 162.5L49.4 162.4L49.6 162.2L49.9 162.0L50.2 161.9L50.4 161.8L50.7 161.6L51.0 161.5L51.2 161.4L51.5 161.2L51.7 161.1L52.0 161.0L52.3 160.9L52.5 160.8L52.8 160.7L53.0 160.6L53.3 160.6L53.6 160.5L53.8 160.4L54.1 160.4L54.4 160.3L54.6 160.2L54.9 160.2L55.1 160.2L55.4 160.1L55.7 160.1L55.9 160.1L56.2 160.0L56.4 160.0L56.7 160.0L57.0 160.0L57.2 160.0L57.5 160.0L57.8 160.0L58.0 160.0L58.3 160.0L58.5 160.0L58.8 160.0L59.1 160.0L59.3 160.0L59.6 159.9L59.8 159.9L60.1 159.9L60.4 159.8L60.6 159.8L60.9 159.8L61.1 159.7L61.4 159.6L61.7 159.6L61.9 159.5L62.2 159.4L62.5 159.4L62.7 159.3L63.0 159.2L63.2 159.1L63.5 159.0L63.8 158.9L64.0 158.8L64.3 158.6L64.5 158.5L64.8 158.4L65.1 158.2L65.3 158.1L65.6 158.0L65.9 157.8L66.1 157.6L66.4 157.5L66.6 157.3L66.9 157.1L67.2 156.9L67.4 156.7L67.7 156.5L67.9 156.3L68.2 156.1L68.5 155.9L68.7 155.7L69.0 155.5L69.3 155.2L69.5 155.0L69.8 154.7L70.0 154.5L70.3 154.2L70.6 154.0L70.8 153.7L71.1 153.4L71.3 153.2L71.6 152.9L71.9 152.6L72.1 152.3L72.4 152.0L72.7 151.7L72.9 151.4L73.2 151.1L73.4 150.8L73.7 150.5L74.0 150.2L74.2 149.9L74.5 149.5L74.7 149.2L75.0 148.9L75.3 148.5L75.5 148.2L75.8 147.8L76.1 147.5L76.3 147.2L76.6 146.8L76.8 146.4L77.1 146.1L77.4 145.7L77.6 145.4L77.9 145.0L78.1 144.6L78.4 144.3L78.7 143.9L78.9 143.5L79.2 143.2L79.5 142.8L79.7 142.4L80.0 142.0L80.2 141.7L80.5 141.3L80.8 140.9L81.0 140.5L81.3 140.1L81.5 139.7L81.8 139.4L82.1 139.0L82.3 138.6L82.6 138.2L82.9 137.8L83.1 137.4L83.4 137.0L83.6 136.7L83.9 136.3" stroke="#9859a5" stroke-width="1.35" stroke-opacity="1.0" fill="none" stroke-linejoin="round" stroke-linecap="square"/>
<text x="40.60" y="182.00" font-size="3.8" text-anchor="middle">-0.2</text>
<text x="57.75" y="182.00" font-size="3.8" text-anchor="middle">0</text>
<text x="74.90" y="182.00" font-size="3.8" text-anchor="middle">0.2</text>
<text x="30.10" y="177.06" font-size="3.8" text-anchor="end">-2</text>
<text x="30.10" y="161.36" font-size="3.8" text-anchor="end">0</text>
<text x="30.10" y="145.66" font-size="3.8" text-anchor="end">2</text>
<rect x="259.40" y="138.60" width="187.20" height="90.80" fill="#fff"/>
<path d="M290.60 138.60V229.40M321.80 138.60V229.40M353.00 138.60V229.40M384.20 138.60V229.40M415.40 138.60V229.40M259.40 220.32H446.60M259.40 211.24H446.60M259.40 202.16H446.60M259.40 193.08H446.60M259.40 184.00H446.60M259.40 174.92H446.60M259.40 165.84H446.60M259.40 156.76H446.60M259.40 147.68H446.60" stroke="#ececec" stroke-width="0.6" fill="none"/>
<path d="M259.40 229.40v-2.00M259.40 138.60v2.00M290.60 229.40v-2.00M290.60 138.60v2.00M321.80 229.40v-2.00M321.80 138.60v2.00M353.00 229.40v-2.00M353.00 138.60v2.00M384.20 229.40v-2.00M384.20 138.60v2.00M415.40 229.40v-2.00M415.40 138.60v2.00M446.60 229.40v-2.00M446.60 138.60v2.00M259.40 229.40h2.00M446.60 229.40h-2.00M259.40 220.32h2.00M446.60 220.32h-2.00M259.40 211.24h2.00M446.60 211.24h-2.00M259.40 202.16h2.00M446.60 202.16h-2.00M259.40 193.08h2.00M446.60 193.08h-2.00M259.40 184.00h2.00M446.60 184.00h-2.00M259.40 174.92h2.00M446.60 174.92h-2.00M259.40 165.84h2.00M446.60 165.84h-2.00M259.40 156.76h2.00M446.60 156.76h-2.00M259.40 147.68h2.00M446.60 147.68h-2.00M259.40 138.60h2.00M446.60 138.60h-2.00" stroke="#999999" stroke-width="0.6" fill="none"/>
<path d="M259.40 138.10V229.90M446.60 138.10V229.90" stroke="#d6d6d6" stroke-width="1.0"/>
<path d="M258.90 138.60H447.10" stroke="#d4d4d4" stroke-width="1.0"/>
<path d="M258.90 229.40H447.10" stroke="#cacaca" stroke-width="1.0"/>
<clipPath id="c7x"><rect x="259.05" y="138.60" width="187.90" height="90.80"/></clipPath>
<path clip-path="url(#c7x)" d="M259.4 229.2L260.0 229.2L260.6 229.2L261.3 229.1L261.9 229.1L262.5 229.1L263.1 229.1L263.8 229.1L264.4 229.1L265.0 229.1L265.6 229.1L266.3 229.1L266.9 229.0L267.5 229.0L268.1 229.0L268.8 229.0L269.4 229.0L270.0 229.0L270.6 228.9L271.3 228.9L271.9 228.9L272.5 228.9L273.1 228.9L273.8 228.8L274.4 228.8L275.0 228.8L275.6 228.8L276.2 228.7L276.9 228.7L277.5 228.7L278.1 228.7L278.7 228.6L279.4 228.6L280.0 228.6L280.6 228.5L281.2 228.5L281.9 228.5L282.5 228.4L283.1 228.4L283.7 228.3L284.4 228.3L285.0 228.3L285.6 228.2L286.2 228.2L286.9 228.1L287.5 228.1L288.1 228.0L288.7 227.9L289.4 227.9L290.0 227.8L290.6 227.8L291.2 227.7L291.8 227.6L292.5 227.6L293.1 227.5L293.7 227.4L294.3 227.3L295.0 227.3L295.6 227.2L296.2 227.1L296.8 227.0L297.5 226.9L298.1 226.8L298.7 226.7L299.3 226.6L300.0 226.5L300.6 226.4L301.2 226.2L301.8 226.1L302.5 226.0L303.1 225.8L303.7 225.7L304.3 225.6L305.0 225.4L305.6 225.3L306.2 225.1L306.8 224.9L307.4 224.8L308.1 224.6L308.7 224.4L309.3 224.2L309.9 224.0L310.6 223.8L311.2 223.6L311.8 223.4L312.4 223.1L313.1 222.9L313.7 222.6L314.3 222.4L314.9 222.1L315.6 221.8L316.2 221.6L316.8 221.3L317.4 221.0L318.1 220.7L318.7 220.3L319.3 220.0L319.9 219.7L320.6 219.3L321.2 219.0L321.8 218.6L322.4 218.2L323.0 217.8L323.7 217.4L324.3 217.0L324.9 216.5L325.5 216.1L326.2 215.6L326.8 215.1L327.4 214.6L328.0 214.1L328.7 213.6L329.3 213.1L329.9 212.6L330.5 212.0L331.2 211.4L331.8 210.9L332.4 210.3L333.0 209.6L333.7 209.0L334.3 208.4L334.9 207.7L335.5 207.1L336.2 206.4L336.8 205.7L337.4 205.0L338.0 204.3L338.6 203.5L339.3 202.8L339.9 202.0L340.5 201.2L341.1 200.5L341.8 199.7L342.4 198.9L343.0 198.1L343.6 197.2L344.3 196.4L344.9 195.5L345.5 194.7L346.1 193.8L346.8 193.0L347.4 192.1L348.0 191.2L348.6 190.3L349.3 189.4L349.9 188.5L350.5 187.6L351.1 186.7L351.8 185.8L352.4 184.9L353.0 184.0L353.6 183.1L354.2 182.2L354.9 181.3L355.5 180.4L356.1 179.5L356.7 178.6L357.4 177.7L358.0 176.8L358.6 175.9L359.2 175.0L359.9 174.2L360.5 173.3L361.1 172.5L361.7 171.6L362.4 170.8L363.0 169.9L363.6 169.1L364.2 168.3L364.9 167.5L365.5 166.8L366.1 166.0L366.7 165.2L367.4 164.5L368.0 163.7L368.6 163.0L369.2 162.3L369.8 161.6L370.5 160.9L371.1 160.3L371.7 159.6L372.3 159.0L373.0 158.4L373.6 157.7L374.2 157.1L374.8 156.6L375.5 156.0L376.1 155.4L376.7 154.9L377.3 154.4L378.0 153.9L378.6 153.4L379.2 152.9L379.8 152.4L380.5 151.9L381.1 151.5L381.7 151.0L382.3 150.6L383.0 150.2L383.6 149.8L384.2 149.4L384.8 149.0L385.4 148.7L386.1 148.3L386.7 148.0L387.3 147.7L387.9 147.3L388.6 147.0L389.2 146.7L389.8 146.4L390.4 146.2L391.1 145.9L391.7 145.6L392.3 145.4L392.9 145.1L393.6 144.9L394.2 144.6L394.8 144.4L395.4 144.2L396.1 144.0L396.7 143.8L397.3 143.6L397.9 143.4L398.6 143.2L399.2 143.1L399.8 142.9L400.4 142.7L401.0 142.6L401.7 142.4L402.3 142.3L402.9 142.2L403.5 142.0L404.2 141.9L404.8 141.8L405.4 141.6L406.0 141.5L406.7 141.4L407.3 141.3L407.9 141.2L408.5 141.1L409.2 141.0L409.8 140.9L410.4 140.8L411.0 140.7L411.7 140.7L412.3 140.6L412.9 140.5L413.5 140.4L414.2 140.4L414.8 140.3L415.4 140.2L416.0 140.2L416.6 140.1L417.3 140.1L417.9 140.0L418.5 139.9L419.1 139.9L419.8 139.8L420.4 139.8L421.0 139.7L421.6 139.7L422.3 139.7L422.9 139.6L423.5 139.6L424.1 139.5L424.8 139.5L425.4 139.5L426.0 139.4L426.6 139.4L427.3 139.4L427.9 139.3L428.5 139.3L429.1 139.3L429.8 139.3L430.4 139.2L431.0 139.2L431.6 139.2L432.2 139.2L432.9 139.1L433.5 139.1L434.1 139.1L434.7 139.1L435.4 139.1L436.0 139.0L436.6 139.0L437.2 139.0L437.9 139.0L438.5 139.0L439.1 139.0L439.7 138.9L440.4 138.9L441.0 138.9L441.6 138.9L442.2 138.9L442.9 138.9L443.5 138.9L444.1 138.9L444.7 138.9L445.4 138.8L446.0 138.8L446.6 138.8" stroke="#338eca" stroke-width="1.35" stroke-opacity="1.0" fill="none" stroke-linejoin="round" stroke-linecap="square"/>
<text x="259.40" y="235.10" font-size="3.8" text-anchor="middle">-3</text>
<text x="290.60" y="235.10" font-size="3.8" text-anchor="middle">-2</text>
<text x="321.80" y="235.10" font-size="3.8" text-anchor="middle">-1</text>
<text x="353.00" y="235.10" font-size="3.8" text-anchor="middle">0</text>
<text x="384.20" y="235.10" font-size="3.8" text-anchor="middle">1</text>
<text x="415.40" y="235.10" font-size="3.8" text-anchor="middle">2</text>
<text x="446.60" y="235.10" font-size="3.8" text-anchor="middle">3</text>
<text x="257.90" y="230.76" font-size="3.8" text-anchor="end">-1</text>
<text x="257.90" y="221.68" font-size="3.8" text-anchor="end">-0.8</text>
<text x="257.90" y="212.60" font-size="3.8" text-anchor="end">-0.6</text>
<text x="257.90" y="203.52" font-size="3.8" text-anchor="end">-0.4</text>
<text x="257.90" y="194.44" font-size="3.8" text-anchor="end">-0.2</text>
<text x="257.90" y="185.36" font-size="3.8" text-anchor="end">-0</text>
<text x="257.90" y="176.28" font-size="3.8" text-anchor="end">0.2</text>
<text x="257.90" y="167.20" font-size="3.8" text-anchor="end">0.4</text>
<text x="257.90" y="158.12" font-size="3.8" text-anchor="end">0.6</text>
<text x="257.90" y="149.04" font-size="3.8" text-anchor="end">0.8</text>
<text x="257.90" y="139.96" font-size="3.8" text-anchor="end">1</text>
<rect x="413.30" y="216.30" width="30.10" height="6.60" fill="#fff" stroke="#c4c4c4" stroke-width="0.8"/>
<path d="M414.60 219.40H426.50" stroke="#2687c7" stroke-width="1.15" stroke-opacity="1.0"/>
<text class="lg" x="427.60" y="220.40" font-size="3.45">y=tanh(x)</text>
<text x="106.82" y="114.50" font-size="4.2" text-anchor="middle">x-axis</text>
<text x="353.00" y="114.50" font-size="4.2" text-anchor="middle">x-axis</text>
<text x="106.82" y="240.50" font-size="4.2" text-anchor="middle">x-axis</text>
<text x="353.00" y="240.50" font-size="4.2" text-anchor="middle">x-axis</text>
<text transform="translate(3.90 57.80) rotate(-90)" font-size="4.2" text-anchor="middle">y-axis</text>
<text transform="translate(252.30 57.90) rotate(-90)" font-size="4.2" text-anchor="middle">y-axis</text>
<text transform="translate(3.80 183.90) rotate(-90)" font-size="4.2" text-anchor="middle">y-axis</text>
<text transform="translate(249.10 183.90) rotate(-90)" font-size="4.2" text-anchor="middle">y-axis</text></svg>
</body></html>
